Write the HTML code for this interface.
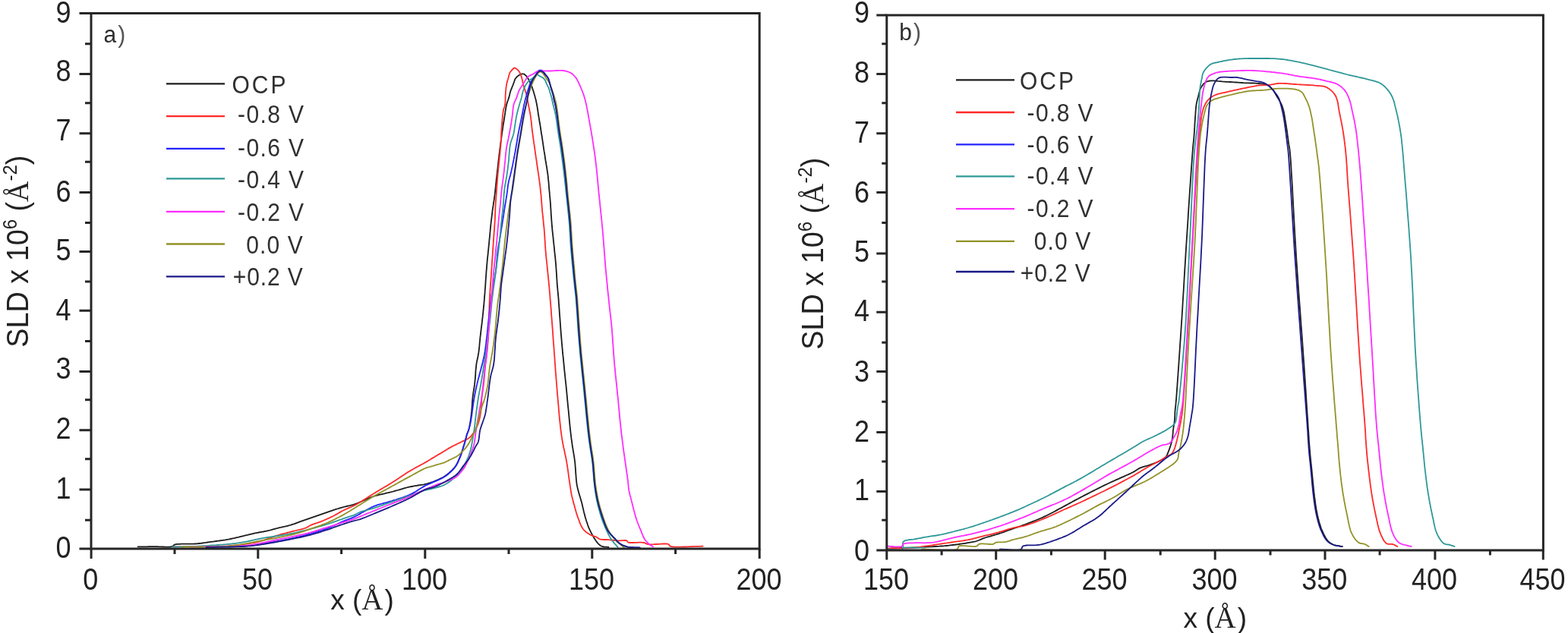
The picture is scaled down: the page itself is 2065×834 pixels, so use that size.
<!DOCTYPE html><html><head><meta charset="utf-8"><style>html,body{margin:0;padding:0;background:#fff;overflow:hidden}svg{display:block;filter:blur(0.7px)}</style></head><body><svg width="2065" height="834" viewBox="0 0 2065 834" font-family="'Liberation Sans', Arial, sans-serif" font-size="36" fill="#222">
<rect width="100%" height="100%" fill="#fff"/>
<path d="M181.6 720.3 L183.9 720.3 L186.3 720.3 L188.6 720.3 L191 720.3 L193.3 720.3 L195.7 720.2 L198 720.2 L200.4 720.2 L202.7 720.2 L205 720.2 L207.3 720.2 L209.8 720.3 L212.3 720.4 L214.9 720.5 L217.3 720.6 L219.7 720.6 L222 720.6 L223.9 720.5 L225.6 720.3 L227 720 L228.1 719.3 L228.8 718.4 L230 717.6 L231.6 717.2 L233.7 716.9 L236.2 716.8 L239 716.7 L242 716.7 L245.1 716.7 L248.3 716.7 L251.5 716.7 L254.4 716.7 L257.2 716.5 L259.6 716.3 L262 716 L264.3 715.8 L266.7 715.5 L269 715.2 L271.3 714.9 L273.6 714.5 L275.9 714.2 L278.2 713.9 L280.4 713.6 L282.5 713.3 L284.6 713 L286.7 712.7 L288.8 712.5 L290.9 712.2 L293 711.9 L295 711.6 L297 711.3 L298.9 710.9 L300.8 710.6 L302.3 710.3 L303.8 710 L305.3 709.7 L306.7 709.4 L308.1 709.1 L309.4 708.8 L310.8 708.4 L312.3 708.1 L313.8 707.8 L315.3 707.4 L317.2 706.9 L319.3 706.5 L321.4 705.9 L323.5 705.4 L325.7 704.9 L327.8 704.3 L330 703.8 L332.1 703.3 L334.1 702.8 L336.1 702.4 L337.7 702.1 L339.3 701.8 L340.8 701.5 L342.3 701.2 L343.8 701 L345.3 700.7 L346.8 700.5 L348.3 700.2 L349.8 699.9 L351.3 699.6 L352.8 699.2 L354.4 698.9 L355.9 698.5 L357.4 698.1 L359 697.6 L360.5 697.2 L362 696.8 L363.5 696.4 L365.1 696 L366.6 695.6 L368.1 695.2 L369.7 694.9 L371.2 694.5 L372.8 694.2 L374.3 693.9 L375.9 693.5 L377.4 693.2 L378.9 692.8 L380.4 692.4 L381.9 692 L383.3 691.6 L384.6 691.2 L385.9 690.7 L387.2 690.3 L388.5 689.8 L389.8 689.3 L391.1 688.8 L392.4 688.4 L393.7 687.9 L395 687.4 L396.4 686.9 L397.8 686.4 L399.3 685.9 L400.7 685.4 L402.2 684.9 L403.6 684.3 L405.1 683.8 L406.5 683.3 L408 682.8 L409.4 682.3 L410.8 681.8 L412.3 681.3 L413.7 680.8 L415.2 680.3 L416.6 679.8 L418 679.3 L419.5 678.8 L420.9 678.3 L422.4 677.8 L423.8 677.3 L425.2 676.8 L426.7 676.3 L428.1 675.8 L429.6 675.3 L431 674.8 L432.4 674.3 L433.9 673.8 L435.3 673.3 L436.8 672.8 L438.2 672.3 L439.6 671.8 L441.1 671.4 L442.5 670.9 L444 670.5 L445.4 670.1 L446.8 669.6 L448.3 669.2 L449.7 668.8 L451.2 668.4 L452.6 668 L454 667.6 L455.4 667.3 L456.8 667 L458.1 666.7 L459.5 666.4 L460.9 666.1 L462.3 665.7 L463.8 665.3 L465.3 664.9 L466.9 664.4 L469.1 663.6 L471.5 662.7 L473.9 661.6 L476.5 660.5 L479 659.3 L481.6 658.2 L484.3 657 L486.9 655.9 L489.5 654.9 L492 654 L494.4 653.2 L496.8 652.6 L499.2 651.9 L501.6 651.4 L504 650.8 L506.4 650.3 L508.8 649.7 L511.2 649.2 L513.6 648.6 L516 648 L518.4 647.4 L520.8 646.7 L523.3 646 L525.7 645.3 L528.1 644.6 L530.5 643.9 L532.9 643.2 L535.3 642.5 L537.7 641.9 L540 641.4 L542.1 641 L544.2 640.6 L546.4 640.2 L548.5 639.8 L550.6 639.5 L552.7 639.2 L554.7 638.9 L556.6 638.6 L558.4 638.3 L560 637.9 L561.6 637.5 L563.1 637.1 L564.4 636.7 L565.7 636.3 L567.1 635.9 L568.4 635.4 L569.6 635 L570.8 634.5 L572 634 L573.2 633.6 L574.4 633 L575.6 632.5 L576.8 632 L578 631.5 L579.2 630.9 L580.4 630.4 L581.6 629.8 L582.8 629.2 L584 628.5 L585.2 627.8 L586.3 627.1 L587.4 626.3 L588.5 625.5 L589.5 624.7 L590.6 623.8 L591.6 622.9 L592.6 622 L593.6 621.1 L594.7 620.1 L595.7 619.1 L596.7 618 L597.7 617 L598.6 615.9 L599.5 614.7 L600.3 613.6 L601 612.5 L601.7 611.3 L602.3 610.1 L602.9 608.9 L603.4 607.6 L604 606.4 L604.5 605.2 L605 604 L605.5 602.8 L606 601.6 L606.5 600.4 L606.9 599.2 L607.4 598 L607.8 596.8 L608.3 595.4 L608.7 594 L609.1 592.6 L609.6 591.2 L610 589.8 L610.4 588.4 L610.8 587 L611.3 585.6 L611.7 584.2 L612.1 582.8 L612.5 581.4 L612.9 580 L613.3 578.6 L613.6 577.3 L613.9 575.9 L614.3 574.5 L614.6 573.2 L615 572 L615.4 570.8 L615.9 569.8 L616.3 568.7 L616.8 567.6 L617.2 566.4 L617.5 565.2 L617.9 563.9 L618.2 562.4 L618.5 561 L618.7 559.5 L619 558 L619.3 556.5 L619.5 555 L619.7 553.7 L619.9 552.4 L620.1 551.1 L620.2 549.9 L620.4 548.6 L620.5 547.2 L620.7 545.9 L620.8 544.5 L621 543 L621.2 541.2 L621.3 539.3 L621.5 537.4 L621.6 535.4 L621.8 533.4 L621.9 531.3 L622 529.2 L622.2 527.2 L622.4 525.2 L622.6 523.2 L622.8 521.4 L623.1 519.6 L623.3 517.8 L623.6 516 L623.9 514.2 L624.2 512.5 L624.4 510.7 L624.7 508.8 L625 506.9 L625.2 505 L625.4 502.6 L625.7 500.1 L625.9 497.6 L626.1 495 L626.3 492.3 L626.4 489.7 L626.6 487.1 L626.9 484.6 L627.1 482.2 L627.4 480 L627.6 478.4 L627.9 476.9 L628.2 475.4 L628.5 474 L628.8 472.7 L629.1 471.3 L629.4 469.9 L629.7 468.5 L629.9 467 L630.2 465.4 L630.5 463.3 L630.8 461.1 L631 458.8 L631.3 456.4 L631.5 454 L631.7 451.6 L632 449.1 L632.2 446.7 L632.4 444.3 L632.7 442 L633 439.8 L633.2 437.6 L633.5 435.5 L633.7 433.3 L634 431.2 L634.3 429 L634.5 426.8 L634.8 424.7 L635 422.4 L635.3 420.2 L635.6 417.8 L635.8 415.4 L636.1 413 L636.3 410.6 L636.6 408.2 L636.8 405.7 L637.1 403.2 L637.3 400.6 L637.6 397.8 L637.8 395 L638.1 390.9 L638.5 386.5 L638.8 381.8 L639.2 377 L639.5 372.1 L639.8 367.2 L640.2 362.3 L640.5 357.6 L640.9 353.2 L641.2 349 L641.5 346 L641.7 343.1 L642 340.4 L642.3 337.7 L642.6 335.1 L642.8 332.5 L643.1 329.9 L643.4 327.3 L643.6 324.7 L643.9 322 L644.2 319.3 L644.4 316.5 L644.7 313.7 L645 310.9 L645.2 308.1 L645.5 305.4 L645.7 302.6 L646 300 L646.2 297.4 L646.5 295 L646.7 293.1 L646.9 291.4 L647.1 289.6 L647.3 287.9 L647.5 286.3 L647.7 284.7 L647.9 283 L648.1 281.4 L648.3 279.7 L648.5 278 L648.7 276.2 L649 274.4 L649.3 272.6 L649.6 270.7 L649.8 268.9 L650.1 267 L650.4 265.2 L650.7 263.3 L650.9 261.4 L651.2 259.5 L651.5 257.4 L651.7 255.3 L652 253.1 L652.2 251 L652.4 248.8 L652.7 246.6 L652.9 244.4 L653.1 242.2 L653.4 240.1 L653.6 237.9 L653.8 235.7 L654.1 233.6 L654.3 231.4 L654.6 229.3 L654.8 227.1 L655 224.9 L655.3 222.8 L655.5 220.6 L655.8 218.5 L656 216.3 L656.2 214.2 L656.5 212 L656.7 209.9 L657 207.8 L657.2 205.6 L657.5 203.5 L657.7 201.4 L658 199.3 L658.2 197.1 L658.5 195 L658.8 192.9 L659.1 190.7 L659.3 188.6 L659.6 186.4 L659.9 184.3 L660.2 182.1 L660.5 180 L660.8 177.8 L661.1 175.7 L661.4 173.6 L661.7 171.5 L662 169.5 L662.3 167.4 L662.6 165.4 L662.9 163.3 L663.3 161.3 L663.6 159.3 L663.9 157.3 L664.2 155.3 L664.5 153.4 L664.8 151.7 L665 150 L665.3 148.4 L665.5 146.7 L665.8 145.1 L666 143.5 L666.3 141.9 L666.6 140.4 L666.9 139 L667.2 137.6 L667.6 136.2 L668 134.9 L668.4 133.7 L668.9 132.5 L669.3 131.3 L669.7 130.1 L670.1 128.9 L670.5 127.5 L670.9 126 L671.2 124.5 L671.5 123.1 L671.9 121.7 L672.3 120.3 L672.7 119 L673.2 117.8 L673.7 116.6 L674.2 115.4 L674.6 114.2 L675.1 113.1 L675.6 111.9 L676 110.7 L676.5 109.5 L676.9 108.4 L677.3 107.3 L677.7 106 L678.1 104.9 L678.7 103.7 L679.4 102.8 L680.2 101.9 L681.1 100.9 L682.1 100.1 L683.1 99.4 L684.2 98.8 L685.3 98.1 L686.5 97.6 L687.7 97.3 L688.8 97.3 L690 97.6 L691.1 98.3 L692.1 99.1 L693.1 100.1 L693.9 101.1 L694.7 102.2 L695.4 103.4 L696 104.7 L696.7 105.9 L697.3 107 L697.9 108.1 L698.5 109.3 L699.1 110.5 L699.6 111.7 L700 112.8 L700.5 114 L700.9 115.3 L701.3 116.6 L701.7 117.8 L702.1 119.1 L702.5 120.3 L702.9 121.5 L703.2 122.7 L703.6 123.9 L703.9 125 L704.3 126.3 L704.6 127.5 L704.9 128.7 L705.3 130 L705.6 131.3 L705.9 132.6 L706.2 134 L706.5 135.4 L706.8 136.8 L707 138 L707.2 139.3 L707.5 140.6 L707.7 141.9 L707.9 143.3 L708.1 144.6 L708.3 146 L708.5 147.4 L708.7 148.8 L708.9 150.3 L709.2 152 L709.5 153.8 L709.8 155.7 L710.1 157.5 L710.4 159.4 L710.7 161.3 L711.1 163.2 L711.4 165.2 L711.7 167.1 L712 169 L712.3 171 L712.6 173 L712.9 175 L713.2 177 L713.6 179 L713.9 181.1 L714.2 183.1 L714.5 185.1 L714.8 187.2 L715.1 189.2 L715.4 191.2 L715.7 193.3 L716 195.3 L716.3 197.3 L716.6 199.4 L717 201.4 L717.3 203.4 L717.6 205.4 L717.9 207.5 L718.2 209.5 L718.5 211.5 L718.9 213.5 L719.2 215.5 L719.5 217.5 L719.9 219.5 L720.2 221.5 L720.5 223.6 L720.8 225.6 L721.1 227.6 L721.4 229.7 L721.7 231.9 L721.9 234.1 L722.1 236.4 L722.4 238.7 L722.6 241 L722.8 243.3 L722.9 245.5 L723.1 247.8 L723.3 249.9 L723.5 252 L723.7 253.7 L723.8 255.3 L723.9 256.9 L724.1 258.4 L724.2 259.9 L724.4 261.4 L724.5 263 L724.6 264.6 L724.8 266.2 L724.9 268 L725.1 270.4 L725.2 273 L725.4 275.6 L725.6 278.3 L725.7 281.1 L725.9 283.9 L726.1 286.7 L726.3 289.5 L726.5 292.3 L726.7 295 L726.9 297.7 L727.2 300.4 L727.4 303.1 L727.7 305.8 L728 308.5 L728.3 311.2 L728.6 313.9 L728.8 316.6 L729.1 319.3 L729.4 322 L729.7 324.7 L730 327.4 L730.2 330.1 L730.5 332.8 L730.8 335.5 L731.1 338.2 L731.4 340.9 L731.6 343.6 L731.9 346.3 L732.1 349 L732.3 351.7 L732.5 354.5 L732.7 357.4 L732.9 360.2 L733.1 363 L733.2 365.8 L733.4 368.5 L733.6 371.2 L733.7 373.7 L733.9 376 L734 377.5 L734.2 378.9 L734.3 380.2 L734.4 381.4 L734.5 382.7 L734.6 383.9 L734.8 385.2 L734.9 386.6 L735 388.2 L735.2 390 L735.6 394.4 L735.9 399.6 L736.4 405.4 L736.8 411.7 L737.3 418.3 L737.8 425.2 L738.3 432.1 L738.8 439.1 L739.4 445.8 L739.9 452.2 L740.5 458.4 L741 464.7 L741.7 470.9 L742.3 477.1 L742.9 483.4 L743.5 489.6 L744.2 495.8 L744.8 502 L745.5 508.3 L746.1 514.5 L746.7 520.8 L747.3 527.3 L747.9 533.8 L748.6 540.4 L749.2 546.9 L749.8 553.4 L750.4 559.6 L751 565.6 L751.7 571.4 L752.3 576.7 L752.8 580.2 L753.3 583.6 L753.7 586.8 L754.2 589.9 L754.7 592.9 L755.2 595.8 L755.7 598.8 L756.2 601.7 L756.6 604.7 L757 607.8 L757.4 611 L757.6 614.3 L757.9 617.6 L758.1 621 L758.3 624.3 L758.6 627.6 L758.8 630.8 L759.1 634 L759.5 637.1 L760 640 L760.5 642.4 L761 644.6 L761.6 646.8 L762.2 649 L762.8 651.1 L763.4 653.2 L764.1 655.3 L764.7 657.4 L765.3 659.5 L765.9 661.6 L766.5 663.8 L767 666 L767.5 668.2 L768 670.4 L768.5 672.6 L769 674.8 L769.6 676.9 L770.1 679.1 L770.7 681.2 L771.3 683.2 L771.9 685 L772.4 686.8 L773 688.5 L773.6 690.3 L774.1 692 L774.8 693.7 L775.4 695.4 L776.2 697 L776.9 698.7 L777.8 700.4 L778.8 702.3 L779.9 704.4 L781.1 706.5 L782.4 708.7 L783.7 710.8 L785 712.8 L786.4 714.6 L787.8 716.3 L789.3 717.7 L790.7 718.8 L792 719.5 L793.3 720 L794.6 720.3 L796 720.5 L797.4 720.6 L798.8 720.7 L800.1 720.8 L801.5 721" fill="none" stroke="#1c1c1c" stroke-width="1.8" stroke-linejoin="round" stroke-linecap="round"/>
<path d="M230 720.5 L237.1 720.4 L244.3 720.4 L251.6 720.4 L258.9 720.3 L266.2 720.3 L273.4 720.3 L280.4 720.2 L287.3 720 L293.8 719.7 L300 719.3 L304.5 718.9 L308.9 718.5 L313.1 718.1 L317.2 717.7 L321.3 717.1 L325.2 716.6 L329 716 L332.7 715.3 L336.4 714.6 L340 713.8 L342.9 713.1 L345.8 712.2 L348.5 711.4 L351.2 710.4 L353.8 709.5 L356.4 708.5 L359 707.6 L361.5 706.7 L364.1 705.8 L366.6 705 L368.8 704.4 L371.1 703.7 L373.3 703.1 L375.5 702.6 L377.7 702 L379.8 701.5 L382 700.9 L384 700.4 L386 699.9 L388 699.4 L389.6 699 L391.2 698.6 L392.7 698.3 L394.3 697.9 L395.8 697.6 L397.2 697.2 L398.7 696.8 L400 696.4 L401.3 696 L402.5 695.6 L403.8 695 L404.9 694.4 L406 693.8 L407 693.2 L408.1 692.5 L409.4 691.9 L410.6 691.4 L411.9 690.9 L413.3 690.4 L414.8 689.9 L416.3 689.4 L417.8 688.9 L419.3 688.3 L420.8 687.8 L422.3 687.3 L423.8 686.7 L425.3 686.1 L426.7 685.5 L428.1 684.9 L429.6 684.2 L431 683.6 L432.5 682.9 L433.9 682.3 L435.3 681.6 L436.8 680.9 L438.2 680.2 L439.7 679.5 L441.1 678.7 L442.5 677.9 L444 677.1 L445.4 676.3 L446.8 675.4 L448.3 674.6 L449.7 673.8 L451.2 673 L452.6 672.3 L454 671.6 L455.4 671 L456.8 670.4 L458.1 669.8 L459.5 669.2 L460.9 668.6 L462.4 668 L463.8 667.3 L465.3 666.6 L466.9 665.8 L469.2 664.6 L471.5 663.2 L474 661.7 L476.5 660.2 L479.1 658.5 L481.7 656.9 L484.3 655.2 L486.9 653.6 L489.5 651.9 L492 650.4 L494.4 648.9 L496.8 647.5 L499.2 646.1 L501.6 644.6 L504 643.2 L506.4 641.8 L508.8 640.4 L511.2 638.9 L513.6 637.5 L516 636 L518.4 634.5 L520.8 632.9 L523.3 631.3 L525.7 629.7 L528.1 628 L530.5 626.4 L532.9 624.9 L535.3 623.3 L537.7 621.8 L540 620.4 L542.1 619.2 L544.2 618 L546.4 616.8 L548.5 615.6 L550.6 614.5 L552.7 613.4 L554.7 612.3 L556.6 611.3 L558.4 610.3 L560 609.4 L561.4 608.6 L562.7 607.8 L563.9 607.1 L565 606.4 L566.1 605.7 L567.2 605 L568.4 604.3 L569.6 603.6 L570.8 602.9 L572 602.2 L573.2 601.4 L574.4 600.7 L575.6 600 L576.8 599.3 L578 598.6 L579.2 597.9 L580.4 597.2 L581.6 596.4 L582.8 595.7 L584 595 L585.2 594.3 L586.4 593.6 L587.6 592.8 L588.8 592.1 L590 591.3 L591.2 590.6 L592.4 589.9 L593.6 589.2 L594.8 588.6 L596 587.9 L597.2 587.3 L598.5 586.7 L599.7 586.1 L600.8 585.6 L602 585 L603.4 584.3 L604.8 583.6 L606.1 583 L607.4 582.3 L608.7 581.7 L609.9 581.2 L611.1 580.7 L612.3 580.2 L613.5 579.6 L614.6 579 L615.8 578.3 L617 577.5 L618.1 576.6 L619.2 575.7 L620.3 574.6 L621.2 573.6 L622.1 572.4 L622.9 571.2 L623.8 570 L624.6 568.7 L625.4 567.3 L626.1 566 L626.7 564.8 L627.3 563.6 L627.9 562.4 L628.5 561.2 L629 559.9 L629.5 558.6 L630 557.3 L630.4 555.9 L630.8 554.6 L631.1 553.3 L631.5 551.9 L631.8 550.5 L632.1 549 L632.4 547.6 L632.6 546.1 L632.9 544.6 L633.1 543.1 L633.3 541.6 L633.5 539.9 L633.7 538.1 L633.8 536.3 L633.9 534.4 L634 532.5 L634.1 530.7 L634.2 528.8 L634.3 526.9 L634.4 525 L634.6 523.2 L634.8 521.4 L635 519.6 L635.3 517.8 L635.5 516 L635.8 514.3 L636 512.5 L636.3 510.7 L636.5 508.8 L636.8 506.9 L637 505 L637.3 502.6 L637.5 500.1 L637.7 497.5 L638 494.9 L638.2 492.2 L638.4 489.6 L638.6 487 L638.8 484.5 L639.1 482.2 L639.3 480 L639.5 478.4 L639.7 476.9 L639.9 475.5 L640.1 474.1 L640.3 472.8 L640.4 471.4 L640.6 470 L640.8 468.6 L641 467 L641.2 465 L641.4 463 L641.6 460.9 L641.9 458.7 L642.1 456.5 L642.3 454.2 L642.5 451.9 L642.7 449.6 L642.8 447.3 L643 445 L643.1 442.6 L643.3 440.1 L643.4 437.6 L643.5 435.1 L643.6 432.6 L643.7 430.1 L643.8 427.6 L643.8 425.1 L643.9 422.5 L644 420 L644.1 417.4 L644.2 414.8 L644.2 412.3 L644.3 409.7 L644.4 407.1 L644.4 404.5 L644.5 401.9 L644.6 399.2 L644.7 396.6 L644.8 394 L644.9 391.3 L645.1 388.6 L645.3 385.9 L645.4 383.2 L645.6 380.5 L645.8 377.8 L646 375.1 L646.2 372.4 L646.4 369.7 L646.6 367 L646.8 364.3 L647 361.6 L647.1 358.9 L647.3 356.2 L647.5 353.5 L647.7 350.8 L647.9 348.1 L648 345.4 L648.2 342.7 L648.4 340 L648.6 337.3 L648.8 334.6 L648.9 331.8 L649.1 329.1 L649.3 326.4 L649.5 323.6 L649.7 320.9 L649.8 318.3 L650 315.6 L650.2 313 L650.4 310.6 L650.5 308.2 L650.7 305.8 L650.9 303.5 L651.1 301.1 L651.2 298.8 L651.4 296.5 L651.5 294.3 L651.7 292.1 L651.8 290 L651.9 288.3 L652 286.6 L652 285 L652.1 283.4 L652.1 281.8 L652.2 280.2 L652.2 278.6 L652.3 277 L652.3 275.4 L652.4 273.8 L652.5 272.1 L652.6 270.3 L652.7 268.6 L652.8 266.8 L652.9 265.1 L653.1 263.3 L653.2 261.5 L653.3 259.7 L653.5 257.8 L653.6 255.9 L653.8 253.6 L653.9 251.3 L654.1 249 L654.3 246.5 L654.4 244.1 L654.6 241.7 L654.8 239.2 L655 236.8 L655.2 234.3 L655.4 231.9 L655.6 229.5 L655.8 227.1 L656.1 224.6 L656.3 222.2 L656.6 219.7 L656.8 217.3 L657.1 214.9 L657.3 212.6 L657.6 210.3 L657.8 208 L658 206.1 L658.2 204.3 L658.4 202.5 L658.5 200.7 L658.7 198.9 L658.9 197.2 L659 195.4 L659.2 193.6 L659.4 191.8 L659.5 190 L659.6 188 L659.8 185.9 L659.9 183.9 L659.9 181.8 L660 179.7 L660.1 177.6 L660.2 175.4 L660.3 173.3 L660.5 171.2 L660.6 169 L660.8 166.7 L661 164.2 L661.1 161.7 L661.4 159.1 L661.6 156.6 L661.8 154.1 L662 151.7 L662.3 149.5 L662.6 147.4 L662.9 145.6 L663.2 144 L663.6 142.7 L664.1 141.5 L664.5 140.3 L664.8 139 L665.1 137.6 L665.3 136.3 L665.4 135 L665.5 133.6 L665.5 132.1 L665.6 130.6 L665.6 129.1 L665.6 127.6 L665.6 126.1 L665.7 124.6 L665.8 123.2 L665.9 121.8 L666 120.3 L666.2 118.9 L666.3 117.5 L666.4 116.1 L666.6 114.8 L666.8 113.4 L667 112.1 L667.2 110.9 L667.5 109.5 L667.9 108.1 L668.2 106.8 L668.6 105.5 L669 104.3 L669.4 103 L669.7 101.7 L670 100.5 L670.3 99.2 L670.7 98 L671 96.8 L671.5 95.8 L672.1 94.8 L672.9 93.8 L673.6 93 L674.4 92.2 L675.3 91 L676.3 90 L677.3 89.4 L678.3 89.6 L679.5 90.2 L680.6 91.1 L681.6 91.9 L682.4 92.7 L683.1 93.5 L683.8 94.4 L684.4 95.4 L684.9 96.4 L685.4 97.6 L685.9 98.7 L686.3 99.9 L686.7 101.1 L687.1 102.4 L687.4 103.7 L687.7 104.9 L688 106.2 L688.2 107.5 L688.5 108.9 L688.8 110.2 L689.1 111.4 L689.5 112.6 L689.8 113.7 L690.2 114.9 L690.6 116.2 L691 117.4 L691.4 118.6 L691.8 119.8 L692.2 121 L692.7 122.3 L693.1 123.5 L693.5 124.8 L693.8 126 L694.1 127.4 L694.4 128.8 L694.6 130.1 L694.8 131.6 L695 133.1 L695.3 134.7 L695.6 136.3 L695.9 138 L696.3 139.8 L696.6 141.6 L697 143.6 L697.4 145.5 L697.8 147.5 L698.2 149.5 L698.5 151.5 L698.8 153.4 L699.1 155.4 L699.3 157.4 L699.6 159.4 L699.8 161.4 L700 163.4 L700.2 165.4 L700.4 167.5 L700.6 169.5 L700.8 171.5 L701.1 173.6 L701.4 175.8 L701.7 177.9 L702 180.1 L702.3 182.3 L702.6 184.5 L702.9 186.7 L703.2 188.9 L703.6 191.1 L703.9 193.3 L704.2 195.5 L704.5 197.7 L704.8 199.9 L705.1 202 L705.4 204.2 L705.7 206.4 L706.1 208.6 L706.4 210.8 L706.7 212.9 L707 215.1 L707.3 217.3 L707.6 219.5 L708 221.7 L708.3 223.9 L708.6 226.2 L709 228.4 L709.3 230.6 L709.6 232.8 L709.9 235 L710.2 237.1 L710.5 239.1 L710.7 240.8 L710.9 242.4 L711.1 244 L711.3 245.5 L711.5 247 L711.6 248.6 L711.8 250.1 L712 251.7 L712.1 253.3 L712.3 255 L712.5 257 L712.7 259.1 L712.8 261.3 L713 263.4 L713.2 265.6 L713.4 267.9 L713.5 270.1 L713.7 272.4 L713.9 274.7 L714.1 277 L714.3 279.6 L714.6 282.2 L714.9 284.9 L715.2 287.6 L715.5 290.3 L715.7 293.1 L716 295.8 L716.3 298.6 L716.6 301.3 L716.8 304 L717 306.7 L717.2 309.4 L717.4 312.1 L717.5 314.8 L717.7 317.5 L717.9 320.2 L718 322.9 L718.2 325.6 L718.4 328.3 L718.6 331 L718.8 333.7 L719.1 336.4 L719.3 339 L719.6 341.7 L719.9 344.4 L720.2 347 L720.5 349.7 L720.7 352.5 L721 355.2 L721.3 358 L721.6 361 L721.9 364.1 L722.2 367.1 L722.5 370.1 L722.8 373.2 L723.1 376.3 L723.4 379.5 L723.7 382.9 L724 386.4 L724.3 390 L724.7 395.4 L725.2 401.1 L725.7 407.2 L726.1 413.4 L726.6 419.8 L727.1 426.3 L727.6 432.9 L728.1 439.4 L728.5 445.9 L729 452.2 L729.5 458.4 L729.9 464.7 L730.4 470.9 L730.8 477.1 L731.3 483.4 L731.7 489.6 L732.2 495.8 L732.7 502 L733.2 508.3 L733.7 514.5 L734.2 520.8 L734.8 527.3 L735.4 533.9 L735.9 540.4 L736.5 547 L737.1 553.4 L737.8 559.6 L738.4 565.6 L739.2 571.4 L739.9 576.7 L740.5 580.2 L741.1 583.5 L741.7 586.7 L742.3 589.7 L743 592.6 L743.6 595.5 L744.2 598.5 L744.9 601.5 L745.5 604.5 L746.1 607.8 L746.8 611.8 L747.4 616.1 L748.1 620.6 L748.7 625.2 L749.3 629.8 L750 634.3 L750.6 638.6 L751.2 642.7 L751.7 646.3 L752.3 649.5 L752.6 651.2 L752.9 652.6 L753.2 654 L753.5 655.2 L753.8 656.4 L754.1 657.6 L754.4 658.8 L754.7 660.1 L755.1 661.6 L755.6 663.5 L756.2 665.6 L756.8 667.8 L757.4 670 L758.1 672.3 L758.7 674.6 L759.4 676.9 L760.2 679.1 L760.9 681.2 L761.6 683.2 L762.2 684.8 L762.8 686.3 L763.3 687.8 L763.9 689.3 L764.5 690.8 L765.1 692.2 L765.8 693.5 L766.5 694.8 L767.3 696.1 L768.1 697.2 L769 698.3 L770 699.3 L771.1 700.3 L772.2 701.2 L773.3 702 L774.5 702.8 L775.6 703.5 L776.7 704.2 L777.8 704.8 L779.1 705.4 L780.4 705.9 L781.7 706.3 L783 706.6 L784.2 707 L785.3 707.5 L786.5 708.2 L787.6 709 L788.7 709.8 L790 710.4 L791.1 710.7 L792.3 710.8 L793.6 710.9 L794.9 711 L796.3 711 L797.8 711 L799.2 711 L800.6 711.1 L802 711.2 L803.5 711.4 L804.9 711.5 L806.4 711.7 L807.9 711.9 L809.4 712 L810.9 712.2 L812.4 712.3 L813.8 712.4 L815.4 712.4 L817.1 712.3 L818.8 712.2 L820.5 712.1 L822.1 712 L823.5 712 L824.7 712.1 L825.6 712.4 L826.3 713.4 L827 714.4 L828.1 714.8 L829.8 715 L831.9 715 L834.3 715 L836.9 714.9 L839.5 714.8 L842 714.7 L844.4 714.7 L846.5 714.8 L848.1 715 L849.6 715.5 L850.7 716.1 L851.8 716.6 L853.3 717.1 L855.3 717.3 L857.9 717.3 L860.9 717.2 L864.1 717 L867.5 716.8 L870.9 716.6 L874 716.5 L876.8 716.5 L879 716.7 L880.5 717.1 L881.3 717.9 L881.7 718.8 L882.5 719.6 L884.5 720.2 L887.5 720.5 L891.3 720.7 L895.7 720.7 L900.5 720.5 L905.7 720.3 L910.9 720.1 L916.1 719.9 L921 719.8 L925.6 719.7" fill="none" stroke="#ff2a2a" stroke-width="1.8" stroke-linejoin="round" stroke-linecap="round"/>
<path d="M271 721 L276.2 720.9 L281.7 720.8 L287.1 720.7 L292.7 720.6 L298.1 720.4 L303.5 720.3 L308.7 720.2 L313.6 720 L318.2 719.8 L322.5 719.5 L325 719.3 L327.3 719.1 L329.5 718.9 L331.5 718.6 L333.5 718.4 L335.5 718.1 L337.5 717.8 L339.6 717.5 L341.9 717.2 L344.3 716.8 L348.1 716.2 L352.3 715.5 L356.8 714.7 L361.5 713.9 L366.2 713 L370.9 712.1 L375.6 711.2 L380 710.3 L384.2 709.4 L388 708.6 L390.5 708 L392.8 707.5 L395 706.9 L397.1 706.4 L399.2 705.9 L401.2 705.3 L403.2 704.8 L405.2 704.2 L407.3 703.6 L409.4 703 L411.6 702.4 L413.8 701.7 L416 701.1 L418.3 700.4 L420.5 699.7 L422.7 699 L424.9 698.3 L427.1 697.6 L429.3 696.8 L431.5 696 L433.7 695.1 L435.8 694.2 L438 693.2 L440.2 692.2 L442.4 691.2 L444.5 690.2 L446.6 689.2 L448.6 688.3 L450.7 687.3 L452.6 686.5 L454.1 685.9 L455.6 685.3 L457 684.8 L458.3 684.3 L459.7 683.8 L461.1 683.3 L462.4 682.8 L463.9 682.2 L465.3 681.6 L466.9 680.9 L469.1 679.8 L471.5 678.5 L473.9 677.1 L476.4 675.6 L479 674.1 L481.6 672.6 L484.2 671.1 L486.8 669.7 L489.4 668.4 L492 667.2 L494.4 666.3 L496.8 665.4 L499.2 664.7 L501.6 664 L504 663.3 L506.4 662.7 L508.8 662.1 L511.2 661.4 L513.6 660.7 L516 660 L518.4 659.2 L520.9 658.5 L523.3 657.7 L525.8 656.9 L528.2 656.1 L530.6 655.3 L533 654.4 L535.4 653.5 L537.7 652.6 L540 651.6 L542.2 650.6 L544.3 649.4 L546.5 648.2 L548.6 646.9 L550.7 645.6 L552.7 644.3 L554.7 643.1 L556.6 641.9 L558.3 640.9 L560 640 L561.4 639.3 L562.6 638.7 L563.8 638.2 L565 637.7 L566.1 637.2 L567.2 636.7 L568.4 636.2 L569.6 635.7 L570.8 635.2 L572 634.7 L573.2 634.2 L574.4 633.7 L575.6 633.1 L576.8 632.6 L578 632 L579.2 631.5 L580.4 630.9 L581.6 630.3 L582.8 629.7 L584 629 L585.2 628.3 L586.3 627.6 L587.4 626.8 L588.5 626 L589.5 625.2 L590.6 624.3 L591.6 623.4 L592.6 622.5 L593.6 621.6 L594.7 620.6 L595.7 619.5 L596.7 618.5 L597.7 617.4 L598.6 616.3 L599.5 615.2 L600.3 614 L601 612.9 L601.7 611.7 L602.3 610.5 L602.9 609.3 L603.4 608.1 L604 606.9 L604.5 605.7 L605 604.5 L605.5 603.3 L606 602.1 L606.5 600.9 L606.9 599.6 L607.4 598.4 L607.8 597.2 L608.3 595.8 L608.7 594.4 L609.1 593 L609.6 591.6 L610 590.2 L610.4 588.8 L610.8 587.4 L611.3 586 L611.7 584.6 L612.1 583.2 L612.5 581.8 L612.9 580.4 L613.3 579.1 L613.6 577.7 L613.9 576.4 L614.3 575 L614.6 573.7 L615 572.5 L615.4 571.3 L615.9 570.1 L616.3 568.9 L616.8 567.7 L617.2 566.4 L617.6 565.2 L617.9 563.8 L618.3 562.5 L618.7 561 L619 559.6 L619.4 558.1 L619.7 556.5 L620 555 L620.3 553.6 L620.5 552.2 L620.7 550.7 L620.9 549.2 L621.2 547.7 L621.4 546.2 L621.6 544.6 L621.8 543.1 L622 541.5 L622.2 540 L622.4 538.4 L622.7 536.7 L622.9 535 L623.1 533.4 L623.4 531.7 L623.6 530 L623.9 528.3 L624.1 526.6 L624.4 524.9 L624.7 523.2 L625 521.4 L625.4 519.6 L625.7 517.9 L626.1 516.1 L626.4 514.3 L626.8 512.5 L627.2 510.7 L627.6 508.8 L628.1 506.9 L628.5 505 L629.1 502.6 L629.7 500.1 L630.4 497.5 L631.1 494.9 L631.8 492.2 L632.5 489.6 L633.2 487 L633.8 484.5 L634.4 482.2 L635 480 L635.4 478.4 L635.8 476.9 L636.1 475.5 L636.5 474.1 L636.8 472.8 L637.1 471.4 L637.4 470 L637.7 468.6 L638 467 L638.3 465 L638.7 463 L639 460.9 L639.3 458.7 L639.6 456.5 L639.9 454.2 L640.2 451.9 L640.4 449.6 L640.7 447.3 L641 445 L641.3 442.6 L641.6 440.1 L641.8 437.7 L642.1 435.2 L642.3 432.7 L642.6 430.2 L642.8 427.7 L643.1 425.2 L643.3 422.7 L643.6 420.2 L643.9 417.7 L644.2 415.1 L644.4 412.5 L644.7 410 L645 407.4 L645.3 404.8 L645.6 402.3 L645.9 399.8 L646.2 397.4 L646.5 395 L646.8 393 L647.1 391 L647.4 389.1 L647.6 387.2 L647.9 385.3 L648.3 383.4 L648.6 381.6 L648.9 379.7 L649.2 377.9 L649.5 376 L649.8 374.2 L650.2 372.4 L650.5 370.7 L650.8 368.9 L651.2 367.2 L651.5 365.4 L651.9 363.7 L652.2 361.8 L652.5 360 L652.8 358 L653.1 355.5 L653.4 352.9 L653.7 350.1 L653.9 347.3 L654.2 344.5 L654.4 341.7 L654.7 338.9 L654.9 336.1 L655.2 333.5 L655.5 331 L655.8 329.1 L656 327.2 L656.3 325.4 L656.6 323.7 L656.9 322 L657.2 320.3 L657.5 318.6 L657.9 316.8 L658.2 314.9 L658.5 313 L658.9 310.5 L659.3 307.8 L659.8 305 L660.2 302.2 L660.7 299.3 L661.2 296.5 L661.6 293.7 L662 291 L662.4 288.4 L662.8 286 L663.1 284.4 L663.3 282.8 L663.5 281.3 L663.7 279.8 L663.9 278.4 L664.1 277 L664.3 275.6 L664.6 274.2 L664.8 272.8 L665 271.4 L665.2 270 L665.5 268.5 L665.7 267.1 L666 265.7 L666.2 264.3 L666.4 262.8 L666.7 261.4 L666.9 259.9 L667.2 258.5 L667.4 257 L667.6 255.4 L667.9 253.7 L668.1 252 L668.3 250.3 L668.5 248.6 L668.7 246.9 L668.9 245.2 L669.1 243.6 L669.4 241.9 L669.7 240.3 L670 238.8 L670.3 237.4 L670.7 236 L671 234.7 L671.4 233.3 L671.8 231.9 L672.2 230.5 L672.5 229 L672.9 227.5 L673.3 225.9 L673.8 223.6 L674.3 221.2 L674.9 218.7 L675.4 216.1 L675.9 213.4 L676.5 210.7 L677 208 L677.5 205.3 L678 202.7 L678.5 200.1 L678.9 197.7 L679.3 195.3 L679.7 192.9 L680.1 190.6 L680.5 188.2 L680.9 185.9 L681.2 183.6 L681.6 181.3 L682 179 L682.4 176.8 L682.8 174.8 L683.2 172.9 L683.5 171 L683.9 169.2 L684.3 167.3 L684.7 165.5 L685.1 163.6 L685.5 161.8 L685.9 159.9 L686.3 158 L686.7 156 L687.1 153.8 L687.5 151.7 L688 149.5 L688.4 147.3 L688.8 145.2 L689.2 143.1 L689.6 141.1 L689.9 139.3 L690.3 137.6 L690.7 135.9 L691 134.4 L691.3 133.1 L691.7 131.7 L692 130.3 L692.4 128.9 L692.7 127.7 L693.1 126.4 L693.4 125.1 L693.8 123.8 L694.2 122.6 L694.5 121.3 L694.9 120 L695.3 118.8 L695.7 117.5 L696.1 116.2 L696.5 115 L696.9 113.7 L697.3 112.5 L697.7 111.3 L698.2 110.2 L698.9 108.8 L699.6 107.5 L700.3 106.2 L701 104.9 L701.8 103.7 L702.5 102.6 L703.2 101.7 L703.9 100.7 L704.7 99.7 L705.4 98.7 L706.2 97.5 L707 96.1 L707.9 94.8 L708.7 93.6 L709.7 92.9 L711.1 92.5 L712.6 92.5 L714 92.9 L714.9 93.6 L715.8 94.5 L716.7 95.7 L717.5 96.9 L718.3 98 L719.1 99 L719.9 99.9 L720.6 100.9 L721.3 101.9 L721.9 103 L722.4 104.1 L722.8 105.3 L723.1 106.5 L723.4 107.7 L723.8 109 L724.1 110.2 L724.5 111.4 L724.8 112.6 L725.1 113.8 L725.5 115 L725.8 116.2 L726.2 117.4 L726.6 118.6 L727 119.8 L727.3 121 L727.7 122.2 L728.1 123.4 L728.4 124.6 L728.7 126 L729 127.5 L729.3 129 L729.5 130.4 L729.8 131.8 L730.2 133.2 L730.5 134.6 L730.9 136 L731.3 137.6 L731.5 138.8 L731.8 140 L732 141.3 L732.3 142.7 L732.5 144.1 L732.8 145.6 L733 147.1 L733.3 148.7 L733.5 150.3 L733.8 152.4 L734.1 154.5 L734.4 156.9 L734.7 159.2 L735 161.7 L735.3 164.1 L735.6 166.6 L735.9 169 L736.2 171.3 L736.5 173.6 L736.8 175.5 L737.1 177.5 L737.4 179.3 L737.7 181.2 L738 183 L738.3 184.8 L738.6 186.6 L738.9 188.5 L739.2 190.4 L739.5 192.3 L739.8 194.4 L740.1 196.5 L740.4 198.7 L740.7 200.9 L741 203 L741.3 205.3 L741.6 207.5 L741.9 209.7 L742.2 211.9 L742.5 214.2 L742.8 216.6 L743.1 219.1 L743.4 221.7 L743.7 224.2 L744 226.8 L744.3 229.3 L744.5 231.8 L744.8 234.3 L745.1 236.7 L745.3 239.1 L745.5 241.1 L745.7 243.1 L745.9 245 L746 246.9 L746.2 248.8 L746.3 250.7 L746.5 252.5 L746.7 254.3 L746.8 256.1 L747 257.8 L747.1 259.2 L747.3 260.6 L747.4 262 L747.6 263.3 L747.7 264.6 L747.9 265.9 L748 267.3 L748.2 268.6 L748.3 270.1 L748.5 271.6 L748.7 273.7 L748.9 275.9 L749.2 278.1 L749.4 280.4 L749.7 282.8 L749.9 285.2 L750.1 287.7 L750.4 290.1 L750.6 292.6 L750.8 295 L751 297.6 L751.2 300.3 L751.3 302.9 L751.5 305.6 L751.7 308.3 L751.8 311 L752 313.8 L752.1 316.5 L752.3 319.3 L752.5 322 L752.7 324.8 L752.9 327.7 L753.2 330.6 L753.4 333.5 L753.7 336.3 L753.9 339.2 L754.2 342.1 L754.5 345 L754.7 347.9 L755 350.8 L755.3 353.7 L755.6 356.8 L755.8 359.9 L756.1 363 L756.4 366.1 L756.7 369.1 L757 372 L757.3 374.8 L757.6 377.3 L757.8 379.6 L758 381.3 L758.2 382.7 L758.3 384 L758.5 385.2 L758.6 386.5 L758.8 388.1 L759 390 L759.4 394.1 L759.7 399.1 L760.1 404.8 L760.6 411.1 L761 417.8 L761.5 424.8 L762 431.9 L762.5 438.9 L763 445.7 L763.5 452.2 L764.1 458.4 L764.6 464.7 L765.2 470.9 L765.9 477.1 L766.5 483.4 L767.1 489.6 L767.8 495.8 L768.4 502 L769.1 508.3 L769.7 514.5 L770.3 520.8 L771 527.3 L771.6 533.8 L772.2 540.4 L772.8 546.9 L773.5 553.4 L774.1 559.6 L774.7 565.6 L775.4 571.3 L776 576.7 L776.5 580.2 L776.9 583.6 L777.4 586.8 L777.9 589.9 L778.3 592.9 L778.8 595.8 L779.3 598.8 L779.7 601.7 L780.1 604.7 L780.5 607.8 L780.9 611 L781.2 614.3 L781.5 617.6 L781.7 620.9 L782 624.3 L782.2 627.6 L782.5 630.8 L782.8 634 L783.1 637 L783.5 640 L783.8 642.3 L784.2 644.6 L784.5 646.8 L784.9 649 L785.3 651.1 L785.7 653.2 L786.1 655.3 L786.5 657.4 L787 659.5 L787.5 661.6 L788 663.8 L788.6 666 L789.2 668.2 L789.9 670.4 L790.5 672.6 L791.2 674.8 L791.9 677 L792.6 679.1 L793.3 681.2 L794 683.2 L794.6 684.9 L795.2 686.6 L795.8 688.3 L796.4 690 L797 691.7 L797.6 693.3 L798.3 694.8 L799 696.3 L799.8 697.8 L800.6 699.2 L801.4 700.4 L802.3 701.6 L803.2 702.7 L804.1 703.8 L805.1 704.8 L806.1 705.9 L807 706.9 L808 707.8 L808.9 708.8 L809.8 709.7 L810.8 710.8 L811.7 711.8 L812.6 712.8 L813.5 713.8 L814.4 714.7 L815.3 715.5 L816.4 716.3 L817.6 717 L818.8 717.7 L820 718.4 L821.3 718.9 L822.7 719.4 L824.1 719.9 L825.6 720.3 L827.1 720.6 L828.7 720.8 L830.3 721 L832.1 721.1 L833.8 721.2 L835.6 721.3 L837.5 721.4 L839.3 721.4 L841.1 721.5 L842.8 721.6" fill="none" stroke="#2222ff" stroke-width="1.8" stroke-linejoin="round" stroke-linecap="round"/>
<path d="M227.1 720.5 L229.5 720.5 L231.8 720.4 L234.2 720.4 L236.5 720.3 L238.9 720.3 L241.3 720.3 L243.7 720.2 L246.1 720.2 L248.5 720.1 L251 720 L253.8 719.9 L256.6 719.8 L259.4 719.7 L262.3 719.5 L265.2 719.4 L268.1 719.2 L271 719.1 L274 718.9 L277 718.7 L280 718.5 L283.4 718.3 L286.9 718 L290.5 717.7 L294.1 717.5 L297.7 717.2 L301.3 716.8 L304.9 716.5 L308.4 716.1 L311.9 715.7 L315.3 715.2 L318.3 714.7 L321.2 714.2 L324 713.7 L326.8 713.1 L329.6 712.5 L332.4 711.9 L335.3 711.2 L338.2 710.6 L341.2 710 L344.3 709.4 L348.3 708.7 L352.5 708 L356.8 707.4 L361.2 706.7 L365.6 706 L370.1 705.3 L374.6 704.6 L379.2 703.8 L383.6 703 L388 702.1 L392.4 701.1 L397 700 L401.6 698.9 L406.2 697.7 L410.8 696.5 L415.3 695.3 L419.6 694 L423.8 692.8 L427.8 691.6 L431.5 690.5 L433.9 689.7 L436.3 689 L438.5 688.2 L440.7 687.4 L442.8 686.7 L444.8 685.9 L446.8 685.2 L448.8 684.5 L450.7 683.8 L452.6 683.1 L454.2 682.6 L455.7 682.1 L457.2 681.6 L458.7 681.1 L460.2 680.6 L461.6 680.2 L463 679.7 L464.4 679.3 L465.7 678.8 L466.9 678.3 L468.4 677.7 L469.7 677 L470.9 676.3 L472.1 675.7 L473.5 675 L475 674.4 L476.4 673.9 L477.9 673.4 L479.5 673 L481.2 672.5 L482.9 672.1 L484.7 671.6 L486.5 671.2 L488.3 670.7 L490.2 670.2 L492 669.6 L494.2 668.9 L496.5 668.1 L498.9 667.3 L501.3 666.4 L503.8 665.6 L506.2 664.7 L508.7 663.8 L511.1 662.9 L513.6 662.1 L516 661.2 L518.4 660.4 L520.8 659.5 L523.3 658.6 L525.7 657.8 L528.1 656.9 L530.6 656.1 L533 655.2 L535.3 654.4 L537.7 653.6 L540 652.8 L542.1 652.1 L544.2 651.3 L546.3 650.6 L548.3 649.9 L550.4 649.1 L552.4 648.4 L554.4 647.8 L556.3 647.1 L558.2 646.5 L560 646 L561.5 645.6 L563 645.2 L564.4 644.9 L565.8 644.6 L567.2 644.3 L568.5 644 L569.9 643.7 L571.2 643.4 L572.6 643 L574 642.6 L575.5 642.2 L576.9 641.8 L578.3 641.4 L579.8 640.9 L581.2 640.5 L582.5 640 L583.9 639.4 L585.2 638.8 L586.4 638.2 L587.6 637.5 L588.8 636.8 L589.9 636.1 L591 635.3 L592.1 634.5 L593.2 633.7 L594.3 632.8 L595.3 632 L596.4 631 L597.5 630 L598.6 629 L599.6 627.9 L600.6 626.8 L601.6 625.8 L602.6 624.7 L603.6 623.6 L604.5 622.6 L605.4 621.5 L606.4 620.5 L607.3 619.5 L608.1 618.4 L608.9 617.4 L609.7 616.3 L610.4 615.3 L611.1 614.2 L611.7 613 L612.2 611.9 L612.7 610.8 L613.2 609.7 L613.7 608.5 L614.3 607.3 L614.9 606.1 L615.4 604.9 L616 603.6 L616.6 602.3 L617.1 601 L617.6 599.8 L618 598.5 L618.4 597.1 L618.9 595.7 L619.3 594.3 L619.7 592.9 L620 591.5 L620.4 590.1 L620.7 588.8 L621 587.5 L621.2 586.1 L621.5 584.8 L621.7 583.4 L621.9 582 L622.2 580.7 L622.4 579.3 L622.6 578 L622.8 576.6 L623.1 575.2 L623.3 573.8 L623.6 572.4 L623.8 571 L624 569.5 L624.3 568 L624.5 566.4 L624.8 564.5 L625 562.5 L625.2 560.5 L625.5 558.3 L625.7 556.1 L626 553.9 L626.2 551.6 L626.5 549.4 L626.7 547.2 L627 545 L627.3 542.8 L627.6 540.6 L627.9 538.4 L628.2 536.2 L628.5 534 L628.8 531.8 L629.1 529.6 L629.4 527.4 L629.8 525.3 L630.1 523.2 L630.4 521.3 L630.7 519.5 L631.1 517.7 L631.4 515.9 L631.8 514.2 L632.1 512.4 L632.5 510.6 L632.8 508.8 L633.2 506.9 L633.5 505 L633.9 502.6 L634.3 500.2 L634.7 497.7 L635.1 495.2 L635.5 492.6 L635.9 490 L636.3 487.4 L636.7 484.9 L637.1 482.4 L637.5 480 L637.8 477.9 L638.1 475.9 L638.5 473.8 L638.8 471.8 L639.1 469.9 L639.4 467.9 L639.7 465.9 L639.9 464 L640.2 462 L640.5 460 L640.8 458 L641 456 L641.3 454 L641.5 452 L641.8 450 L642 448 L642.3 446 L642.5 444 L642.8 442 L643 440 L643.3 438 L643.5 436 L643.8 434.1 L644 432.1 L644.3 430.1 L644.5 428.2 L644.8 426.2 L645 424.1 L645.3 422.1 L645.5 420 L645.8 417.6 L646 415.3 L646.2 412.9 L646.5 410.4 L646.7 408 L646.9 405.5 L647.2 402.9 L647.4 400.4 L647.7 397.7 L648 395 L648.4 391.6 L648.9 388.1 L649.3 384.4 L649.8 380.7 L650.3 376.9 L650.9 373.1 L651.4 369.3 L651.9 365.5 L652.4 361.7 L652.9 358 L653.4 354.4 L653.8 350.8 L654.3 347.2 L654.8 343.6 L655.2 340 L655.7 336.4 L656.1 332.8 L656.6 329.2 L657 325.6 L657.4 322 L657.8 318.3 L658.2 314.5 L658.6 310.6 L659 306.7 L659.3 302.8 L659.7 299 L660 295.4 L660.4 292 L660.7 288.8 L661 286 L661.2 284.4 L661.4 282.9 L661.5 281.6 L661.7 280.4 L661.9 279.1 L662 277.9 L662.2 276.7 L662.3 275.3 L662.5 273.8 L662.7 271.7 L662.9 269.5 L663 267.1 L663.2 264.7 L663.3 262.2 L663.5 259.7 L663.6 257.1 L663.8 254.7 L664.1 252.3 L664.3 250 L664.5 248.1 L664.8 246.2 L665.1 244.4 L665.4 242.6 L665.8 240.8 L666.1 239 L666.4 237.2 L666.7 235.5 L667 233.7 L667.3 231.9 L667.6 230.1 L667.8 228.4 L668.1 226.6 L668.3 224.9 L668.6 223.1 L668.8 221.3 L669 219.6 L669.2 217.7 L669.5 215.9 L669.7 214 L669.9 211.7 L670.2 209.3 L670.3 206.8 L670.5 204.3 L670.7 201.8 L670.9 199.2 L671.1 196.8 L671.4 194.4 L671.7 192.1 L672.1 190 L672.4 188.5 L672.8 187.2 L673.2 185.9 L673.6 184.6 L674.1 183.4 L674.5 182.2 L675 180.9 L675.4 179.6 L675.8 178.3 L676.2 176.8 L676.7 174.7 L677.1 172.5 L677.5 170.1 L677.8 167.7 L678.2 165.2 L678.6 162.7 L678.9 160.3 L679.3 157.9 L679.7 155.6 L680.1 153.4 L680.5 151.7 L680.8 150 L681.2 148.4 L681.6 146.8 L682 145.2 L682.4 143.7 L682.8 142.2 L683.2 140.8 L683.6 139.4 L684 138 L684.4 136.6 L684.8 135.2 L685.2 133.9 L685.6 132.7 L686 131.4 L686.3 130.2 L686.7 128.9 L687.1 127.4 L687.4 126 L687.7 124.5 L688 123.1 L688.4 121.7 L688.8 120.3 L689.2 119 L689.7 117.8 L690.1 116.5 L690.6 115.3 L691.2 114.2 L691.7 113.1 L692.4 111.9 L693.1 110.8 L693.8 109.8 L694.6 108.8 L695.4 107.8 L696.3 106.9 L697.2 106 L698.2 105.2 L699.2 104.4 L700.3 103.8 L701.4 103.1 L702.5 102.3 L703.4 101.4 L704.2 100.3 L705.1 99.2 L705.9 98.4 L706.8 98 L708 98.3 L709.2 99.2 L710.4 100.1 L711.5 100.6 L712.6 101.1 L713.7 101.7 L714.7 102.3 L715.8 103.2 L716.7 104.1 L717.6 105.2 L718.2 106.3 L718.7 107.6 L719.2 108.9 L719.7 110.2 L720.3 111.3 L720.9 112.5 L721.5 113.6 L722.1 114.8 L722.6 116 L723 117.1 L723.4 118.3 L723.8 119.5 L724.1 120.8 L724.4 122 L724.8 123.2 L725.2 124.4 L725.5 125.6 L725.9 126.8 L726.2 128 L726.6 129.2 L726.9 130.4 L727.2 131.8 L727.5 133.2 L727.8 134.6 L728.1 136 L728.4 137.6 L728.7 138.8 L729 140.1 L729.4 141.4 L729.7 142.8 L730.1 144.2 L730.5 145.6 L730.8 147.1 L731.2 148.7 L731.5 150.3 L731.9 152.4 L732.3 154.5 L732.6 156.8 L733 159.2 L733.3 161.7 L733.6 164.1 L734 166.6 L734.3 169 L734.7 171.3 L735 173.6 L735.3 175.5 L735.6 177.4 L735.9 179.3 L736.2 181.2 L736.5 183 L736.8 184.8 L737.1 186.6 L737.4 188.5 L737.7 190.4 L738 192.3 L738.3 194.4 L738.6 196.5 L738.9 198.7 L739.2 200.9 L739.5 203.1 L739.8 205.3 L740.1 207.5 L740.4 209.7 L740.7 211.9 L741 214.2 L741.3 216.6 L741.6 219.1 L741.9 221.7 L742.3 224.2 L742.6 226.8 L742.9 229.3 L743.2 231.8 L743.5 234.3 L743.7 236.7 L744 239.1 L744.2 241.1 L744.4 243.1 L744.6 245 L744.9 246.9 L745.1 248.8 L745.2 250.7 L745.4 252.5 L745.6 254.3 L745.8 256.1 L746 257.8 L746.2 259.2 L746.3 260.6 L746.5 262 L746.6 263.3 L746.7 264.6 L746.9 265.9 L747 267.3 L747.2 268.6 L747.3 270.1 L747.5 271.6 L747.7 273.7 L747.9 275.9 L748.2 278.1 L748.4 280.4 L748.7 282.8 L748.9 285.2 L749.1 287.7 L749.4 290.1 L749.6 292.6 L749.8 295 L750 297.6 L750.2 300.3 L750.3 302.9 L750.5 305.6 L750.7 308.3 L750.8 311 L751 313.8 L751.1 316.5 L751.3 319.3 L751.5 322 L751.7 324.8 L751.9 327.7 L752.2 330.6 L752.4 333.5 L752.7 336.3 L752.9 339.2 L753.2 342.1 L753.5 345 L753.7 347.9 L754 350.8 L754.3 353.7 L754.6 356.8 L754.9 359.9 L755.2 363 L755.5 366.1 L755.9 369.1 L756.2 372 L756.5 374.8 L756.7 377.3 L757 379.6 L757.2 381.3 L757.4 382.7 L757.5 384 L757.7 385.2 L757.8 386.5 L758 388.1 L758.2 390 L758.6 394.1 L758.9 399.1 L759.4 404.8 L759.8 411.1 L760.3 417.8 L760.7 424.8 L761.2 431.9 L761.7 438.9 L762.3 445.7 L762.8 452.2 L763.4 458.4 L763.9 464.7 L764.5 470.9 L765.2 477.1 L765.8 483.4 L766.4 489.6 L767.1 495.8 L767.7 502 L768.4 508.3 L769 514.5 L769.6 520.8 L770.2 527.3 L770.9 533.8 L771.5 540.4 L772.1 546.9 L772.7 553.4 L773.4 559.6 L774 565.6 L774.7 571.3 L775.3 576.7 L775.8 580.2 L776.3 583.6 L776.8 586.8 L777.2 589.9 L777.7 592.9 L778.2 595.8 L778.7 598.8 L779.2 601.7 L779.6 604.7 L780 607.8 L780.4 611 L780.7 614.3 L781 617.6 L781.3 620.9 L781.5 624.3 L781.8 627.6 L782.1 630.8 L782.3 634 L782.7 637 L783 640 L783.3 642.3 L783.6 644.6 L783.9 646.8 L784.2 649 L784.5 651.1 L784.9 653.2 L785.2 655.3 L785.6 657.4 L786 659.5 L786.5 661.6 L787 663.8 L787.5 666 L788.1 668.2 L788.7 670.4 L789.3 672.6 L789.9 674.8 L790.5 677 L791.2 679.1 L791.8 681.2 L792.5 683.2 L793.1 684.9 L793.7 686.6 L794.3 688.3 L795 689.9 L795.6 691.5 L796.3 693.1 L796.9 694.6 L797.6 696.2 L798.3 697.7 L799 699.2 L799.7 700.6 L800.3 701.9 L801 703.3 L801.6 704.6 L802.3 705.9 L803 707.2 L803.7 708.4 L804.5 709.7 L805.2 710.8 L806 712 L806.9 713.2 L807.9 714.4 L808.8 715.6 L809.8 716.7 L810.8 717.7 L811.8 718.8 L812.8 719.9 L813.8 721" fill="none" stroke="#2f9898" stroke-width="1.8" stroke-linejoin="round" stroke-linecap="round"/>
<path d="M251.4 720.5 L256.3 720.4 L261.3 720.3 L266.4 720.3 L271.4 720.2 L276.4 720.1 L281.4 720 L286.3 720 L291 719.9 L295.6 719.7 L300 719.6 L303.3 719.5 L306.4 719.4 L309.5 719.3 L312.5 719.3 L315.4 719.2 L318.3 719 L321.1 718.9 L324 718.7 L326.9 718.4 L329.8 718.1 L332.7 717.7 L335.6 717.2 L338.4 716.7 L341.2 716.2 L344 715.6 L346.9 714.9 L349.8 714.3 L352.7 713.6 L355.8 713 L358.9 712.3 L363 711.5 L367.3 710.6 L371.8 709.7 L376.5 708.8 L381.1 707.9 L385.8 706.9 L390.3 706 L394.6 705 L398.7 704.1 L402.5 703.2 L404.9 702.6 L407.3 701.9 L409.5 701.3 L411.6 700.7 L413.6 700.1 L415.6 699.4 L417.6 698.8 L419.6 698.2 L421.7 697.5 L423.8 696.9 L426 696.2 L428.2 695.5 L430.5 694.9 L432.7 694.2 L434.9 693.5 L437.1 692.8 L439.4 692.1 L441.6 691.4 L443.8 690.7 L446 690 L448.2 689.3 L450.4 688.7 L452.6 688 L454.9 687.3 L457.1 686.6 L459.3 686 L461.4 685.3 L463.4 684.7 L465.2 684.1 L466.9 683.5 L468.4 682.9 L469.8 682.4 L471 681.9 L472.2 681.4 L473.5 680.8 L475 680.2 L476.4 679.6 L478 679 L479.5 678.3 L481.2 677.6 L482.9 676.9 L484.7 676.2 L486.5 675.5 L488.3 674.7 L490.2 674 L492 673.2 L494.2 672.3 L496.5 671.4 L498.9 670.4 L501.3 669.5 L503.7 668.5 L506.2 667.5 L508.7 666.5 L511.1 665.5 L513.6 664.6 L516 663.6 L518.4 662.6 L520.8 661.7 L523.3 660.7 L525.7 659.8 L528.2 658.8 L530.6 657.9 L533 656.9 L535.4 656 L537.7 655 L540 654 L542.1 653.1 L544.3 652.1 L546.4 651.1 L548.6 650 L550.7 649 L552.7 648 L554.7 647.1 L556.6 646.2 L558.3 645.3 L560 644.6 L561.4 644 L562.6 643.5 L563.8 643 L565 642.6 L566.1 642.2 L567.2 641.8 L568.4 641.3 L569.6 640.8 L570.8 640.3 L572 639.8 L573.2 639.3 L574.4 638.8 L575.6 638.3 L576.8 637.9 L578.2 637.4 L579.6 637 L581 636.6 L582.4 636.3 L583.8 635.9 L585.2 635.4 L586.4 635 L587.6 634.5 L588.9 634 L590.1 633.5 L591.3 633 L592.5 632.5 L593.6 632 L595 631.4 L596.4 630.8 L597.7 630.2 L599 629.5 L600.3 628.7 L601.3 627.9 L602.3 627 L603.3 626.1 L604.3 625.1 L605.2 624 L606.1 623 L607 622 L607.9 620.9 L608.8 619.8 L609.7 618.7 L610.5 617.6 L611.3 616.4 L612 615.3 L612.6 614.2 L613.2 613.1 L613.8 611.9 L614.3 610.8 L614.9 609.7 L615.4 608.5 L616 607.3 L616.6 606.1 L617.1 604.8 L617.7 603.6 L618.2 602.3 L618.8 601 L619.3 599.8 L619.8 598.6 L620.3 597.4 L620.8 596.2 L621.2 595 L621.7 593.8 L622.1 592.6 L622.6 591.2 L623 589.9 L623.5 588.6 L623.9 587.2 L624.2 585.7 L624.6 584.2 L624.8 582.9 L625.1 581.6 L625.3 580.2 L625.4 578.8 L625.6 577.4 L625.8 575.9 L625.9 574.4 L626.1 572.9 L626.3 571.5 L626.5 570 L626.7 568.5 L627 567 L627.2 565.5 L627.5 564 L627.7 562.5 L628 561 L628.2 559.5 L628.5 558 L628.7 556.5 L629 555 L629.2 553.5 L629.5 552 L629.7 550.5 L630 549 L630.2 547.6 L630.5 546.1 L630.7 544.6 L631 543.1 L631.2 541.5 L631.5 540 L631.8 538.4 L632.1 536.7 L632.4 535.1 L632.7 533.4 L633 531.7 L633.3 530 L633.6 528.3 L633.9 526.6 L634.1 524.9 L634.4 523.2 L634.6 521.4 L634.9 519.7 L635.1 517.9 L635.3 516.1 L635.5 514.3 L635.7 512.5 L635.9 510.7 L636.1 508.8 L636.3 506.9 L636.5 505 L636.8 502.6 L637 500.1 L637.3 497.5 L637.6 494.9 L637.9 492.2 L638.2 489.6 L638.5 487 L638.8 484.5 L639 482.2 L639.3 480 L639.5 478.4 L639.7 476.9 L639.9 475.5 L640.1 474.1 L640.3 472.8 L640.5 471.4 L640.7 470 L640.8 468.6 L641 467 L641.2 465 L641.4 463 L641.5 460.9 L641.7 458.7 L641.8 456.5 L642 454.2 L642.1 451.9 L642.3 449.6 L642.4 447.3 L642.6 445 L642.8 442.6 L643 440.1 L643.2 437.6 L643.4 435.1 L643.6 432.6 L643.8 430.1 L644 427.5 L644.2 425 L644.4 422.5 L644.6 420 L644.8 417.5 L645.1 415.1 L645.3 412.7 L645.5 410.2 L645.8 407.8 L646 405.4 L646.3 402.9 L646.5 400.3 L646.7 397.7 L647 395 L647.3 391.6 L647.6 388.1 L647.9 384.4 L648.2 380.7 L648.6 376.9 L648.9 373.1 L649.2 369.3 L649.5 365.5 L649.9 361.7 L650.2 358 L650.5 354.4 L650.9 350.8 L651.3 347.2 L651.6 343.6 L652 340 L652.4 336.4 L652.7 332.8 L653.1 329.2 L653.4 325.6 L653.8 322 L654.2 318.3 L654.5 314.4 L654.9 310.5 L655.2 306.6 L655.6 302.7 L655.9 298.8 L656.3 295.1 L656.6 291.5 L656.9 288.1 L657.2 285 L657.4 283 L657.6 281.1 L657.8 279.4 L658 277.7 L658.1 276 L658.3 274.4 L658.5 272.8 L658.7 271.2 L658.8 269.5 L659 267.8 L659.2 266 L659.3 264.2 L659.5 262.5 L659.7 260.7 L659.8 258.9 L660 257.1 L660.1 255.3 L660.3 253.5 L660.5 251.7 L660.7 249.9 L660.9 248.1 L661.1 246.3 L661.4 244.5 L661.6 242.7 L661.9 240.9 L662.1 239.1 L662.4 237.3 L662.6 235.5 L662.9 233.7 L663.1 231.9 L663.3 230.1 L663.5 228.3 L663.7 226.5 L663.9 224.8 L664.1 223 L664.3 221.2 L664.4 219.4 L664.6 217.6 L664.8 215.8 L665 214 L665.2 212.1 L665.4 210.2 L665.5 208.3 L665.7 206.4 L665.9 204.5 L666.1 202.6 L666.3 200.7 L666.5 198.8 L666.7 196.9 L667 195 L667.3 193.2 L667.6 191.4 L668 189.6 L668.4 187.8 L668.8 186 L669.2 184.2 L669.6 182.4 L669.9 180.6 L670.3 178.7 L670.7 176.8 L671.1 174.6 L671.5 172.2 L671.9 169.9 L672.4 167.4 L672.8 165 L673.2 162.6 L673.6 160.2 L673.9 157.8 L674.3 155.6 L674.6 153.4 L674.8 151.7 L675 150 L675.2 148.3 L675.3 146.6 L675.5 145 L675.6 143.4 L675.8 141.9 L676 140.4 L676.3 139 L676.6 137.6 L677 136.2 L677.5 134.9 L678 133.7 L678.6 132.5 L679.1 131.4 L679.7 130.2 L680.2 128.9 L680.7 127.7 L681.1 126.4 L681.5 125 L682 123.7 L682.4 122.4 L682.8 121.1 L683.3 119.9 L683.8 118.8 L684.5 117.5 L685.2 116.4 L685.9 115.3 L686.7 114.2 L687.4 113.1 L688.1 111.9 L688.8 110.8 L689.6 109.6 L690.3 108.5 L691 107.3 L691.7 106.1 L692.4 104.9 L693.1 103.6 L693.8 102.5 L694.6 101.6 L695.7 100.7 L696.9 100 L698.2 99.4 L699.2 98.9 L700.3 98.4 L701.4 97.9 L702.5 97.3 L703.6 96.6 L704.6 95.8 L705.7 95 L706.8 94.4 L708.1 94 L709.5 93.8 L711 93.6 L712.6 93.5 L713.8 93.4 L715 93.4 L716.3 93.4 L717.7 93.4 L719.1 93.4 L720.6 93.5 L722 93.5 L723.5 93.5 L725 93.5 L726.6 93.4 L728.2 93.4 L729.9 93.2 L731.6 93.1 L733.3 93 L735 92.9 L736.7 92.8 L738.3 92.8 L739.9 92.8 L741.4 93 L742.9 93.2 L744.4 93.5 L745.8 93.9 L747.3 94.3 L748.6 94.7 L749.9 95.3 L751.1 95.9 L752.3 96.5 L753.5 97.3 L754.7 98.3 L755.7 99.3 L756.7 100.3 L757.7 101.5 L758.6 102.8 L759.3 103.8 L760 105 L760.6 106.1 L761.3 107.4 L761.9 108.7 L762.5 110 L763.1 111.3 L763.7 112.6 L764.2 113.9 L764.8 115.2 L765.4 116.6 L766 118 L766.5 119.3 L767.1 120.7 L767.6 122.1 L768.1 123.5 L768.6 124.9 L769.1 126.3 L769.5 127.7 L769.9 129.1 L770.3 130.4 L770.7 131.8 L771 133.1 L771.3 134.5 L771.7 135.9 L772 137.3 L772.3 138.7 L772.6 140.2 L772.9 141.8 L773.2 143.4 L773.6 145.1 L773.9 146.8 L774.2 148.5 L774.5 150.2 L774.8 152 L775.1 153.8 L775.4 155.6 L775.7 157.4 L776.1 159.5 L776.5 161.7 L776.9 163.8 L777.3 166 L777.7 168.3 L778.1 170.5 L778.5 172.9 L778.9 175.2 L779.3 177.6 L779.7 180 L780.2 182.9 L780.6 185.8 L781.1 188.8 L781.6 191.8 L782 194.8 L782.5 198 L783 201.1 L783.4 204.4 L783.9 207.7 L784.3 211.1 L784.8 215.4 L785.3 219.8 L785.8 224.4 L786.3 229.1 L786.7 233.9 L787.2 238.7 L787.6 243.5 L788.1 248.3 L788.5 253.1 L789 257.8 L789.5 262.5 L790 267.1 L790.4 271.8 L790.9 276.5 L791.4 281.2 L791.9 285.8 L792.4 290.5 L792.8 295.2 L793.3 299.8 L793.7 304.5 L794.1 309.2 L794.5 313.8 L794.9 318.5 L795.2 323.1 L795.6 327.8 L795.9 332.5 L796.3 337.1 L796.6 341.8 L797 346.4 L797.4 351.1 L797.8 355.8 L798.3 360.6 L798.7 365.4 L799.2 370.3 L799.7 375.1 L800.1 379.9 L800.6 384.6 L801.1 389.2 L801.6 393.7 L802 398 L802.4 401.4 L802.7 404.7 L803.1 407.9 L803.4 410.9 L803.8 414 L804.2 417.1 L804.5 420.1 L804.8 423.3 L805.2 426.6 L805.5 430 L805.9 434.3 L806.2 438.8 L806.6 443.4 L806.9 448.1 L807.2 452.8 L807.6 457.7 L807.9 462.5 L808.2 467.3 L808.6 472.1 L809 476.8 L809.4 481.5 L809.9 486.1 L810.3 490.8 L810.8 495.5 L811.3 500.2 L811.8 504.8 L812.3 509.5 L812.7 514.2 L813.2 518.8 L813.7 523.5 L814.2 528.2 L814.6 532.9 L815 537.5 L815.5 542.2 L815.9 546.9 L816.3 551.6 L816.8 556.3 L817.3 560.9 L817.8 565.6 L818.3 570.3 L818.9 575.1 L819.5 580 L820.2 585.1 L820.8 590.2 L821.5 595.2 L822.2 600.1 L822.9 604.8 L823.5 609.2 L824.1 613.3 L824.6 617 L824.9 619 L825.1 620.8 L825.4 622.5 L825.6 624.2 L825.9 625.7 L826.1 627.2 L826.3 628.7 L826.5 630.2 L826.7 631.7 L826.9 633.2 L827.1 634.7 L827.2 636.2 L827.3 637.7 L827.5 639.2 L827.6 640.6 L827.7 642.1 L827.9 643.5 L828.1 644.9 L828.3 646.4 L828.6 647.7 L828.8 649.1 L829.2 650.4 L829.5 651.7 L829.8 653 L830.2 654.3 L830.6 655.6 L830.9 657 L831.3 658.3 L831.6 659.6 L831.9 660.9 L832.3 662.2 L832.6 663.6 L832.9 664.9 L833.2 666.2 L833.5 667.5 L833.9 668.8 L834.2 670.2 L834.5 671.5 L834.9 672.8 L835.3 674.1 L835.6 675.4 L836 676.8 L836.4 678.1 L836.7 679.4 L837.1 680.7 L837.5 682.1 L837.9 683.4 L838.4 684.7 L838.8 686 L839.3 687.3 L839.8 688.7 L840.3 690 L840.8 691.3 L841.4 692.7 L841.9 694 L842.4 695.3 L843 696.6 L843.6 697.9 L844.1 699.2 L844.7 700.6 L845.2 702 L845.7 703.4 L846.3 704.8 L846.8 706.2 L847.4 707.5 L848 708.8 L848.7 710 L849.4 711.1 L850.3 712.2 L851.2 713.3 L852.2 714.3 L853.2 715.3 L854.1 716.2 L855.1 717 L856 717.7 L857 718.5 L858 719.1 L859 719.7 L860 720.3" fill="none" stroke="#ff2cff" stroke-width="1.8" stroke-linejoin="round" stroke-linecap="round"/>
<path d="M240 720.5 L246 720.4 L252.2 720.4 L258.3 720.5 L264.5 720.5 L270.6 720.6 L276.7 720.5 L282.7 720.5 L288.6 720.3 L294.4 720 L300 719.6 L304.7 719.1 L309.3 718.6 L313.8 717.9 L318.2 717.2 L322.6 716.4 L326.9 715.6 L331.3 714.8 L335.6 713.9 L339.9 713.1 L344.3 712.3 L348.8 711.5 L353.3 710.7 L357.9 709.8 L362.6 709 L367.2 708.1 L371.7 707.2 L376.1 706.3 L380.3 705.4 L384.3 704.5 L388 703.6 L390.5 702.9 L392.8 702.3 L395 701.6 L397.1 700.9 L399.2 700.3 L401.2 699.6 L403.2 698.9 L405.2 698.2 L407.3 697.4 L409.4 696.7 L411.6 695.9 L413.8 695.2 L416 694.4 L418.3 693.7 L420.5 692.9 L422.7 692.1 L424.9 691.2 L427.1 690.4 L429.3 689.5 L431.5 688.6 L433.7 687.6 L435.9 686.6 L438 685.6 L440.2 684.5 L442.4 683.4 L444.5 682.3 L446.6 681.2 L448.7 680.1 L450.7 679.1 L452.6 678 L454.2 677.1 L455.7 676.2 L457.2 675.3 L458.7 674.4 L460.2 673.5 L461.6 672.7 L463 671.8 L464.4 671 L465.6 670.2 L466.9 669.4 L468.2 668.6 L469.3 667.9 L470.4 667.3 L471.4 666.6 L472.5 665.9 L473.7 665.2 L475 664.4 L476.4 663.5 L477.9 662.6 L479.5 661.6 L481.2 660.5 L482.9 659.5 L484.7 658.4 L486.5 657.3 L488.3 656.2 L490.1 655.1 L492 654 L494.2 652.7 L496.5 651.4 L498.9 650.1 L501.3 648.8 L503.7 647.5 L506.2 646.1 L508.7 644.8 L511.1 643.5 L513.6 642.1 L516 640.8 L518.4 639.5 L520.8 638.1 L523.3 636.8 L525.7 635.4 L528.1 634.1 L530.6 632.8 L533 631.4 L535.3 630.1 L537.7 628.9 L540 627.6 L542.1 626.5 L544.2 625.3 L546.4 624.1 L548.5 622.9 L550.6 621.7 L552.7 620.6 L554.6 619.6 L556.5 618.6 L558.3 617.7 L560 617 L561.6 616.4 L563 615.9 L564.4 615.5 L565.7 615.1 L567 614.8 L568.4 614.4 L569.8 614 L571.2 613.6 L572.6 613.1 L574 612.7 L575.4 612.3 L576.8 611.9 L578.2 611.5 L579.6 611.1 L581 610.7 L582.4 610.3 L583.8 609.9 L585.2 609.4 L586.4 608.9 L587.6 608.3 L588.8 607.7 L590 607.1 L591.2 606.4 L592.4 605.8 L593.6 605.2 L594.8 604.6 L596 604.1 L597.3 603.5 L598.5 602.9 L599.7 602.3 L600.9 601.7 L602 601 L603.2 600.1 L604.4 599.2 L605.5 598.2 L606.6 597.2 L607.6 596.2 L608.7 595.1 L609.7 594 L610.8 592.9 L611.8 591.8 L612.8 590.7 L613.7 589.6 L614.6 588.4 L615.4 587.3 L616.1 586.2 L616.8 585.1 L617.5 584 L618.2 582.8 L618.8 581.7 L619.5 580.4 L620.1 579.1 L620.7 577.8 L621.3 576.4 L622 575 L622.6 573.8 L623.3 572.6 L623.9 571.4 L624.6 570.1 L625.3 568.8 L625.9 567.4 L626.5 566 L626.9 564.7 L627.3 563.4 L627.7 562.1 L628 560.6 L628.3 559.2 L628.7 557.8 L629 556.3 L629.3 554.9 L629.6 553.4 L630 552 L630.4 550.6 L630.8 549.2 L631.1 547.8 L631.5 546.4 L631.9 545 L632.3 543.6 L632.7 542.2 L633.2 540.8 L633.6 539.4 L634 538 L634.5 536.5 L634.9 535.1 L635.4 533.6 L635.9 532.1 L636.5 530.6 L637 529.1 L637.5 527.6 L637.9 526.2 L638.4 524.7 L638.8 523.2 L639.2 521.8 L639.5 520.4 L639.9 519.1 L640.2 517.7 L640.5 516.4 L640.8 515 L641.1 513.6 L641.4 512.1 L641.7 510.6 L642 509 L642.4 506.6 L642.7 504.1 L643 501.4 L643.3 498.6 L643.6 495.8 L643.9 492.9 L644.2 490.1 L644.5 487.3 L644.8 484.6 L645.2 482 L645.5 479.9 L645.9 477.9 L646.2 475.9 L646.6 473.9 L646.9 472 L647.3 470.1 L647.7 468.1 L648 466.2 L648.4 464.2 L648.7 462.1 L649.1 459.7 L649.4 457.3 L649.8 454.9 L650.1 452.5 L650.4 450 L650.7 447.5 L651.1 444.9 L651.4 442.3 L651.7 439.6 L652 436.9 L652.4 433.4 L652.7 429.7 L653.1 425.8 L653.4 421.8 L653.7 417.7 L654.1 413.8 L654.4 409.9 L654.7 406.3 L655.1 403 L655.4 400 L655.6 398.3 L655.8 396.7 L656.1 395.4 L656.3 394 L656.5 392.8 L656.7 391.5 L656.9 390.1 L657.2 388.5 L657.4 386.8 L657.8 383.8 L658.2 380.5 L658.7 376.9 L659.1 373 L659.6 369.1 L660.1 365 L660.6 360.9 L661 356.8 L661.5 352.8 L661.9 349 L662.3 345.4 L662.7 341.7 L663 338.1 L663.4 334.5 L663.7 330.9 L664 327.4 L664.4 323.8 L664.7 320.2 L665.1 316.6 L665.5 313 L665.9 309.3 L666.4 305.5 L666.8 301.6 L667.3 297.7 L667.8 293.8 L668.3 290 L668.7 286.4 L669.2 283 L669.6 279.8 L670 277 L670.2 275.4 L670.5 273.9 L670.7 272.6 L670.9 271.3 L671.1 270.1 L671.3 268.9 L671.5 267.6 L671.8 266.4 L672 265 L672.3 263.6 L672.6 262.2 L672.8 260.7 L673.2 259.3 L673.5 257.8 L673.8 256.4 L674.1 254.8 L674.4 253.3 L674.7 251.7 L675 250 L675.4 247.8 L675.7 245.4 L676.1 243 L676.4 240.5 L676.8 237.9 L677.1 235.3 L677.5 232.7 L677.8 230.1 L678.2 227.5 L678.5 225 L678.8 222.5 L679.2 220 L679.5 217.5 L679.9 215 L680.2 212.4 L680.6 209.9 L680.9 207.4 L681.3 204.9 L681.6 202.5 L682 200 L682.4 197.6 L682.8 195.3 L683.2 193 L683.6 190.7 L684 188.4 L684.4 186.1 L684.8 183.8 L685.2 181.4 L685.6 179.1 L686 176.8 L686.4 174.4 L686.8 172 L687.2 169.7 L687.6 167.3 L688 164.9 L688.4 162.5 L688.7 160.1 L689.2 157.7 L689.6 155.4 L690 153 L690.4 150.7 L690.9 148.3 L691.3 145.9 L691.8 143.5 L692.3 141.1 L692.8 138.8 L693.2 136.5 L693.7 134.3 L694.2 132.3 L694.6 130.4 L695 128.7 L695.4 127.2 L695.8 125.7 L696.2 124.3 L696.6 123 L697 121.7 L697.4 120.3 L697.8 119 L698.2 117.8 L698.6 116.5 L699 115.3 L699.4 114.1 L699.8 112.9 L700.3 111.7 L700.8 110.3 L701.4 109 L702 107.6 L702.6 106.3 L703.2 105 L703.9 103.7 L704.6 102.5 L705.3 101.2 L706 99.9 L706.7 98.7 L707.5 97.5 L708.3 96.6 L709 95.8 L710 95 L711 94.5 L712 94.4 L712.9 94.8 L713.8 95.5 L714.6 96.5 L715.5 97.5 L716.4 98.6 L717.2 99.8 L718.1 101.1 L718.9 102.5 L719.7 103.7 L720.4 104.7 L721.2 105.7 L721.9 106.7 L722.6 107.7 L723.3 108.8 L723.9 109.9 L724.4 111.1 L724.8 112.3 L725.3 113.5 L725.7 114.7 L726.2 116 L726.6 117.2 L727.1 118.4 L727.5 119.7 L727.9 120.9 L728.3 122.2 L728.7 123.4 L729.1 124.6 L729.5 125.8 L729.9 127.1 L730.3 128.3 L730.6 129.5 L731 130.6 L731.3 131.8 L731.7 133.2 L732 134.6 L732.4 136 L732.7 137.6 L732.9 138.8 L733.1 140 L733.3 141.3 L733.5 142.7 L733.7 144.1 L733.9 145.6 L734.1 147.1 L734.3 148.7 L734.5 150.3 L734.8 152.4 L735.1 154.6 L735.3 156.9 L735.6 159.2 L735.9 161.7 L736.2 164.1 L736.6 166.6 L736.9 169 L737.2 171.3 L737.5 173.6 L737.8 175.5 L738.1 177.5 L738.4 179.3 L738.7 181.2 L739 183 L739.3 184.8 L739.6 186.6 L739.9 188.5 L740.2 190.4 L740.5 192.3 L740.8 194.4 L741.1 196.5 L741.4 198.7 L741.7 200.9 L742 203 L742.3 205.3 L742.6 207.5 L742.9 209.7 L743.2 211.9 L743.5 214.2 L743.8 216.6 L744.1 219.1 L744.4 221.7 L744.7 224.2 L745 226.8 L745.3 229.3 L745.5 231.8 L745.8 234.3 L746.1 236.7 L746.3 239.1 L746.5 241.1 L746.7 243.1 L746.9 245 L747 246.9 L747.2 248.8 L747.3 250.7 L747.5 252.5 L747.7 254.3 L747.8 256.1 L748 257.8 L748.1 259.2 L748.3 260.6 L748.4 262 L748.6 263.3 L748.7 264.6 L748.9 265.9 L749 267.3 L749.2 268.6 L749.3 270.1 L749.5 271.6 L749.7 273.7 L749.9 275.9 L750.2 278.1 L750.4 280.4 L750.7 282.8 L750.9 285.2 L751.1 287.7 L751.4 290.1 L751.6 292.6 L751.8 295 L752 297.6 L752.2 300.3 L752.3 302.9 L752.5 305.6 L752.7 308.3 L752.8 311 L753 313.8 L753.1 316.5 L753.3 319.3 L753.5 322 L753.7 324.8 L753.9 327.7 L754.2 330.6 L754.4 333.5 L754.7 336.3 L754.9 339.2 L755.2 342.1 L755.5 345 L755.7 347.9 L756 350.8 L756.3 353.7 L756.6 356.8 L756.8 359.9 L757.1 363 L757.4 366.1 L757.7 369.1 L758 372 L758.3 374.8 L758.6 377.3 L758.8 379.6 L759 381.3 L759.2 382.7 L759.3 384 L759.5 385.2 L759.6 386.5 L759.8 388.1 L760 390 L760.4 394.1 L760.7 399.1 L761.1 404.8 L761.6 411.1 L762 417.8 L762.5 424.8 L763 431.9 L763.5 438.9 L764 445.7 L764.5 452.2 L765.1 458.4 L765.6 464.7 L766.2 470.9 L766.9 477.1 L767.5 483.4 L768.1 489.6 L768.8 495.8 L769.4 502 L770.1 508.3 L770.7 514.5 L771.3 520.8 L772 527.3 L772.6 533.8 L773.2 540.4 L773.8 546.9 L774.5 553.4 L775.1 559.6 L775.7 565.6 L776.4 571.3 L777 576.7 L777.5 580.2 L777.9 583.6 L778.4 586.8 L778.9 589.9 L779.3 592.9 L779.8 595.8 L780.3 598.8 L780.7 601.7 L781.1 604.7 L781.5 607.8 L781.9 611 L782.2 614.3 L782.5 617.6 L782.7 620.9 L783 624.3 L783.2 627.6 L783.5 630.8 L783.8 634 L784.1 637 L784.5 640 L784.8 642.3 L785.2 644.6 L785.5 646.8 L785.9 649 L786.3 651.1 L786.7 653.2 L787.1 655.3 L787.5 657.4 L788 659.5 L788.5 661.6 L789 663.8 L789.6 666 L790.2 668.2 L790.9 670.4 L791.5 672.6 L792.2 674.8 L792.9 677 L793.6 679.1 L794.3 681.2 L795 683.2 L795.6 685 L796.3 686.8 L796.9 688.6 L797.6 690.3 L798.3 692 L799 693.7 L799.7 695.4 L800.4 697 L801.2 698.5 L802 700 L802.7 701.2 L803.4 702.4 L804.2 703.6 L804.9 704.7 L805.7 705.8 L806.5 706.8 L807.3 707.9 L808.2 708.9 L809.1 710 L810 711 L811 712.1 L812.1 713.2 L813.3 714.2 L814.4 715.3 L815.6 716.3 L816.9 717.3 L818.1 718.3 L819.3 719.3 L820.5 720.4 L821.7 721.4" fill="none" stroke="#929228" stroke-width="1.8" stroke-linejoin="round" stroke-linecap="round"/>
<path d="M271.7 721 L276.9 720.9 L282.2 720.8 L287.6 720.7 L293 720.7 L298.4 720.6 L303.7 720.5 L308.8 720.4 L313.7 720.2 L318.3 720 L322.5 719.8 L325 719.6 L327.3 719.4 L329.5 719.3 L331.5 719.1 L333.5 718.8 L335.5 718.6 L337.5 718.4 L339.6 718.1 L341.9 717.8 L344.3 717.4 L348.1 716.8 L352.3 716.1 L356.8 715.4 L361.5 714.5 L366.2 713.7 L370.9 712.8 L375.6 711.9 L380 711 L384.2 710.2 L388 709.4 L390.5 708.9 L392.8 708.4 L395 708 L397.1 707.5 L399.2 707.1 L401.2 706.6 L403.2 706.2 L405.2 705.7 L407.3 705.1 L409.4 704.6 L411.6 704 L413.8 703.4 L416 702.7 L418.3 702.1 L420.5 701.4 L422.7 700.7 L424.9 700 L427.1 699.2 L429.3 698.5 L431.5 697.8 L433.7 697.1 L435.8 696.3 L438 695.5 L440.2 694.7 L442.3 693.9 L444.5 693.2 L446.6 692.4 L448.6 691.7 L450.7 691 L452.6 690.3 L454.2 689.8 L455.7 689.3 L457.2 688.8 L458.7 688.4 L460.2 687.9 L461.6 687.5 L463 687.1 L464.3 686.7 L465.6 686.4 L466.9 686 L468.3 685.6 L469.7 685.3 L470.9 685 L472.2 684.6 L473.5 684.3 L475 683.8 L476.4 683.3 L478 682.7 L479.6 682.1 L481.2 681.5 L482.9 680.8 L484.7 680 L486.5 679.3 L488.3 678.5 L490.2 677.8 L492 677 L494.2 676.1 L496.5 675.1 L498.9 674.2 L501.3 673.2 L503.8 672.2 L506.2 671.2 L508.7 670.1 L511.1 669.1 L513.6 668 L516 667 L518.4 665.9 L520.9 664.9 L523.3 663.8 L525.7 662.7 L528.2 661.6 L530.6 660.5 L533 659.4 L535.4 658.3 L537.7 657.1 L540 656 L542.1 654.9 L544.2 653.7 L546.3 652.5 L548.3 651.3 L550.4 650.1 L552.4 648.9 L554.4 647.8 L556.3 646.8 L558.2 645.8 L560 645 L561.5 644.4 L562.9 644 L564.3 643.6 L565.7 643.2 L567 642.9 L568.4 642.6 L569.8 642.2 L571.2 641.8 L572.6 641.3 L574.2 640.6 L575.9 639.9 L577.6 639.1 L579.3 638.3 L581.1 637.4 L582.8 636.5 L584.5 635.6 L586.2 634.7 L587.8 633.8 L589.4 632.9 L590.8 632.1 L592.1 631.3 L593.5 630.5 L594.8 629.7 L596.1 628.9 L597.4 628.1 L598.6 627.3 L599.8 626.4 L600.9 625.5 L602 624.5 L603 623.5 L603.9 622.5 L604.8 621.4 L605.7 620.3 L606.5 619.1 L607.3 618 L608.1 616.9 L608.8 615.7 L609.6 614.6 L610.4 613.6 L611.3 612.5 L612.2 611.4 L613 610.4 L613.9 609.4 L614.7 608.3 L615.5 607.3 L616.3 606.3 L617.1 605.2 L617.9 604 L618.6 602.8 L619.4 601.6 L620.1 600.4 L620.8 599.2 L621.4 598 L622.1 596.8 L622.7 595.6 L623.4 594.4 L624 593.1 L624.6 591.9 L625.1 590.7 L625.7 589.5 L626.3 588.4 L627 587.2 L627.7 586.1 L628.4 585.1 L629.1 583.9 L629.7 582.5 L630.1 581.2 L630.4 579.8 L630.7 578.2 L630.9 576.5 L631.1 574.8 L631.3 573 L631.5 571.3 L631.7 569.6 L632 567.9 L632.3 566.4 L632.7 565 L633.1 563.7 L633.5 562.4 L633.9 561.1 L634.4 559.9 L634.8 558.6 L635.3 557.4 L635.7 556.2 L636.1 555 L636.5 553.7 L637 552.5 L637.4 551.3 L637.8 550.1 L638.2 548.8 L638.6 547.4 L639 545.9 L639.4 544.1 L639.8 542.1 L640.1 539.9 L640.5 537.7 L640.8 535.3 L641.2 532.9 L641.5 530.5 L641.8 528.1 L642.2 525.6 L642.5 523.2 L642.9 520.5 L643.2 517.7 L643.6 514.9 L643.9 512 L644.3 509.1 L644.6 506.2 L645 503.4 L645.4 500.6 L645.8 498 L646.2 495.6 L646.6 493.9 L646.9 492.3 L647.4 490.8 L647.8 489.3 L648.2 487.9 L648.6 486.5 L649 485 L649.4 483.5 L649.8 481.8 L650.1 480 L650.5 477.1 L650.9 473.9 L651.2 470.4 L651.4 466.9 L651.6 463.2 L651.9 459.4 L652.1 455.7 L652.3 452.1 L652.6 448.6 L652.9 445.3 L653.2 442.6 L653.5 440 L653.9 437.5 L654.2 435 L654.5 432.5 L654.9 430 L655.2 427.6 L655.6 425.2 L655.9 422.7 L656.2 420.2 L656.5 417.7 L656.8 415.1 L657 412.5 L657.3 410 L657.6 407.4 L657.8 404.8 L658 402.3 L658.3 399.8 L658.5 397.4 L658.7 395 L658.9 393 L659 391.1 L659.1 389.2 L659.2 387.4 L659.4 385.5 L659.5 383.7 L659.6 381.9 L659.7 380 L659.9 378 L660.1 376 L660.4 373.5 L660.7 370.9 L661 368.2 L661.4 365.5 L661.8 362.8 L662.2 360 L662.6 357.2 L662.9 354.5 L663.3 351.7 L663.7 349 L664.1 346.3 L664.4 343.7 L664.8 341 L665.2 338.4 L665.5 335.7 L665.9 333.1 L666.3 330.4 L666.6 327.7 L667 324.9 L667.3 322 L667.7 318.6 L668.1 315 L668.5 311.3 L668.9 307.6 L669.2 303.8 L669.6 300 L670 296.3 L670.3 292.7 L670.6 289.3 L670.9 286 L671.1 283.6 L671.3 281.2 L671.4 278.8 L671.6 276.6 L671.7 274.4 L671.8 272.2 L672 270.1 L672.1 268 L672.3 266 L672.5 264 L672.7 262.5 L672.9 261.1 L673 259.7 L673.2 258.4 L673.4 257.1 L673.6 255.7 L673.8 254.4 L674.1 253 L674.3 251.5 L674.5 250 L674.8 247.8 L675.1 245.5 L675.5 243 L675.8 240.5 L676.2 238 L676.6 235.3 L676.9 232.7 L677.3 230.1 L677.6 227.5 L678 225 L678.3 222.5 L678.7 220 L679 217.5 L679.4 215 L679.7 212.4 L680.1 209.9 L680.4 207.4 L680.8 204.9 L681.1 202.5 L681.5 200 L681.9 197.6 L682.3 195.3 L682.7 193 L683.1 190.7 L683.5 188.3 L683.9 186 L684.3 183.7 L684.7 181.4 L685.1 179.1 L685.5 176.8 L685.9 174.5 L686.3 172.1 L686.7 169.7 L687 167.3 L687.4 164.9 L687.8 162.6 L688.2 160.2 L688.6 157.9 L689 155.6 L689.4 153.4 L689.8 151.4 L690.2 149.5 L690.6 147.5 L691.1 145.6 L691.5 143.7 L691.9 141.9 L692.4 140 L692.8 138.3 L693.2 136.6 L693.5 135 L693.8 133.4 L694.1 131.9 L694.4 130.5 L694.6 129.2 L694.9 127.8 L695.2 126.4 L695.5 125 L695.8 123.7 L696.1 122.4 L696.4 121 L696.7 119.6 L697 118.2 L697.4 116.9 L697.7 115.5 L698.1 114.2 L698.5 113 L698.9 111.7 L699.4 110.4 L699.9 109.1 L700.4 107.9 L700.9 106.7 L701.4 105.6 L702 104.5 L702.7 103.4 L703.3 102.4 L704 101.4 L704.8 100.5 L705.5 99.5 L706.3 98.3 L707.1 97.1 L707.9 95.9 L708.8 94.9 L709.7 94.2 L711.1 93.8 L712.6 93.8 L714 94.2 L714.9 94.8 L715.8 95.6 L716.7 96.6 L717.5 97.6 L718.3 98.6 L719.3 99.6 L720.2 100.7 L721.1 101.8 L721.9 103 L722.4 104.1 L722.8 105.2 L723.1 106.5 L723.5 107.7 L723.8 109 L724.1 110.2 L724.5 111.4 L724.8 112.6 L725.1 113.8 L725.5 115 L725.8 116.2 L726.2 117.4 L726.6 118.6 L727 119.8 L727.3 121 L727.7 122.2 L728.1 123.4 L728.4 124.6 L728.7 126 L729 127.5 L729.3 129 L729.5 130.4 L729.8 131.8 L730.2 133.2 L730.5 134.6 L730.9 136 L731.3 137.6 L731.5 138.8 L731.8 140 L732 141.3 L732.3 142.7 L732.5 144.1 L732.8 145.6 L733 147.1 L733.3 148.7 L733.5 150.3 L733.8 152.4 L734.1 154.5 L734.4 156.9 L734.7 159.2 L735 161.7 L735.3 164.1 L735.6 166.6 L735.9 169 L736.2 171.3 L736.5 173.6 L736.8 175.5 L737.1 177.5 L737.4 179.3 L737.7 181.2 L738 183 L738.3 184.8 L738.6 186.6 L738.9 188.5 L739.2 190.4 L739.5 192.3 L739.8 194.4 L740.1 196.5 L740.4 198.7 L740.7 200.9 L741 203 L741.3 205.3 L741.6 207.5 L741.9 209.7 L742.2 211.9 L742.5 214.2 L742.8 216.6 L743.1 219.1 L743.4 221.7 L743.7 224.2 L744 226.8 L744.3 229.3 L744.5 231.8 L744.8 234.3 L745.1 236.7 L745.3 239.1 L745.5 241.1 L745.7 243.1 L745.9 245 L746 246.9 L746.2 248.8 L746.3 250.7 L746.5 252.5 L746.7 254.3 L746.8 256.1 L747 257.8 L747.1 259.2 L747.3 260.6 L747.4 262 L747.6 263.3 L747.7 264.6 L747.9 265.9 L748 267.3 L748.2 268.6 L748.3 270.1 L748.5 271.6 L748.7 273.7 L748.9 275.9 L749.2 278.1 L749.4 280.4 L749.7 282.8 L749.9 285.2 L750.1 287.7 L750.4 290.1 L750.6 292.6 L750.8 295 L751 297.6 L751.2 300.3 L751.3 302.9 L751.5 305.6 L751.7 308.3 L751.8 311 L752 313.8 L752.1 316.5 L752.3 319.3 L752.5 322 L752.7 324.8 L752.9 327.7 L753.2 330.6 L753.4 333.5 L753.7 336.3 L753.9 339.2 L754.2 342.1 L754.5 345 L754.7 347.9 L755 350.8 L755.3 353.7 L755.6 356.8 L755.8 359.9 L756.1 363 L756.4 366.1 L756.7 369.1 L757 372 L757.3 374.8 L757.6 377.3 L757.8 379.6 L758 381.3 L758.2 382.7 L758.3 384 L758.5 385.2 L758.6 386.5 L758.8 388.1 L759 390 L759.4 394.1 L759.7 399.1 L760.1 404.8 L760.6 411.1 L761 417.8 L761.5 424.8 L762 431.9 L762.5 438.9 L763 445.7 L763.5 452.2 L764.1 458.4 L764.6 464.7 L765.2 470.9 L765.9 477.1 L766.5 483.4 L767.1 489.6 L767.8 495.8 L768.4 502 L769.1 508.3 L769.7 514.5 L770.3 520.8 L771 527.3 L771.6 533.8 L772.2 540.4 L772.8 546.9 L773.5 553.4 L774.1 559.6 L774.7 565.6 L775.4 571.3 L776 576.7 L776.5 580.2 L776.9 583.6 L777.4 586.8 L777.9 589.9 L778.3 592.9 L778.8 595.8 L779.3 598.8 L779.7 601.7 L780.1 604.7 L780.5 607.8 L780.9 611 L781.2 614.3 L781.5 617.6 L781.7 620.9 L782 624.3 L782.2 627.6 L782.5 630.8 L782.8 634 L783.1 637 L783.5 640 L783.8 642.3 L784.2 644.6 L784.5 646.8 L784.9 649 L785.3 651.1 L785.7 653.2 L786.1 655.3 L786.5 657.4 L787 659.5 L787.5 661.6 L788 663.8 L788.6 666 L789.2 668.2 L789.9 670.4 L790.5 672.6 L791.2 674.8 L791.9 677 L792.6 679.1 L793.3 681.2 L794 683.2 L794.6 684.9 L795.2 686.6 L795.8 688.3 L796.4 690 L797 691.7 L797.6 693.3 L798.3 694.8 L799 696.3 L799.8 697.8 L800.6 699.2 L801.4 700.4 L802.3 701.6 L803.2 702.7 L804.1 703.8 L805.1 704.8 L806.1 705.9 L807 706.9 L808 707.8 L808.9 708.8 L809.8 709.7 L810.8 710.8 L811.7 711.8 L812.6 712.8 L813.5 713.8 L814.4 714.7 L815.3 715.5 L816.4 716.3 L817.6 717 L818.8 717.7 L820 718.4 L821.3 718.9 L822.7 719.4 L824.1 719.9 L825.6 720.3 L827.1 720.6 L828.7 720.8 L830.3 721 L832.1 721.1 L833.8 721.2 L835.6 721.3 L837.5 721.4 L839.3 721.4 L841.1 721.5 L842.8 721.6" fill="none" stroke="#1a1a88" stroke-width="1.8" stroke-linejoin="round" stroke-linecap="round"/>
<path d="M1168 722.8 L1175.1 722.5 L1182.6 722.2 L1190.2 721.9 L1197.9 721.6 L1205.4 721.3 L1212.8 721 L1219.8 720.7 L1226.3 720.4 L1232.3 720 L1237.5 719.7 L1239.9 719.5 L1242.2 719.3 L1244.2 719.2 L1246.1 719 L1248 718.8 L1249.7 718.6 L1251.5 718.4 L1253.2 718.2 L1255 718 L1256.9 717.8 L1258.9 717.5 L1260.9 717.3 L1262.9 717 L1264.9 716.7 L1267 716.4 L1269 716.1 L1270.9 715.8 L1272.8 715.5 L1274.5 715.2 L1276.2 714.9 L1277.8 714.6 L1279.2 714.4 L1280.6 714.2 L1281.9 713.9 L1283.2 713.7 L1284.6 713.4 L1285.9 713 L1287.3 712.5 L1288.6 712 L1289.9 711.5 L1291.2 710.9 L1292.6 710.3 L1294 709.7 L1295.6 709.1 L1297.3 708.5 L1299 708 L1300.9 707.4 L1302.9 706.9 L1304.9 706.3 L1306.9 705.7 L1309 705.1 L1311 704.5 L1313 703.9 L1315 703.3 L1316.9 702.7 L1318.9 702 L1320.9 701.3 L1322.8 700.6 L1324.8 699.9 L1326.7 699.2 L1328.7 698.5 L1330.6 697.8 L1332.5 697.2 L1334.3 696.5 L1335.9 695.9 L1337.5 695.4 L1339 694.9 L1340.5 694.4 L1342 693.9 L1343.5 693.3 L1345.1 692.8 L1346.6 692.2 L1348.3 691.6 L1350 691 L1352.4 690.1 L1354.8 689.2 L1357.4 688.2 L1360 687.1 L1362.7 686.1 L1365.4 685 L1368.1 683.9 L1370.8 682.7 L1373.4 681.6 L1376 680.4 L1378.5 679.2 L1380.9 678 L1383.3 676.8 L1385.8 675.5 L1388.2 674.2 L1390.6 672.9 L1392.9 671.6 L1395.3 670.3 L1397.7 669.1 L1400 667.8 L1402.2 666.6 L1404.4 665.4 L1406.5 664.3 L1408.6 663.1 L1410.7 662 L1412.8 660.8 L1415 659.6 L1417.3 658.4 L1419.6 657.2 L1422 655.9 L1425.2 654.2 L1428.6 652.4 L1432.2 650.6 L1435.8 648.8 L1439.5 646.9 L1443.2 645 L1447 643.1 L1450.7 641.3 L1454.4 639.4 L1458 637.7 L1461.5 636 L1465.2 634.4 L1468.9 632.7 L1472.6 631.1 L1476.3 629.4 L1479.9 627.9 L1483.3 626.3 L1486.5 624.9 L1489.4 623.5 L1492 622.2 L1493.5 621.4 L1494.9 620.5 L1496.2 619.7 L1497.3 619 L1498.4 618.3 L1499.5 617.6 L1500.7 616.9 L1502 616.3 L1503.3 615.8 L1504.6 615.3 L1505.9 615 L1507.2 614.6 L1508.6 614.2 L1510 613.9 L1511.3 613.5 L1512.7 613.1 L1514 612.7 L1515.4 612.2 L1516.7 611.7 L1518.1 611.2 L1519.4 610.7 L1520.8 610.2 L1522.1 609.7 L1523.5 609.1 L1524.7 608.5 L1526 607.9 L1527.3 607.2 L1528.7 606.5 L1530 605.8 L1531.3 605.1 L1532.5 604.3 L1533.7 603.5 L1534.7 602.7 L1535.5 601.9 L1536.3 600.8 L1536.9 599.6 L1537.4 598.4 L1537.9 597.1 L1538.4 595.9 L1538.9 594.6 L1539.5 593.2 L1540 591.8 L1540.5 590.4 L1541 588.9 L1541.5 587.5 L1541.9 586.1 L1542.3 584.8 L1542.7 583.5 L1543 582.1 L1543.3 580.7 L1543.6 579.3 L1543.9 577.9 L1544.1 576.5 L1544.3 575 L1544.4 573.5 L1544.6 572 L1544.7 570.5 L1544.8 569 L1544.9 567.5 L1545.1 566 L1545.3 564.7 L1545.5 563.3 L1545.7 562 L1545.9 560.7 L1546.1 559.3 L1546.4 558 L1546.6 556.7 L1546.7 555.3 L1546.9 554 L1547 552.7 L1547.1 551.3 L1547.2 550 L1547.2 548.7 L1547.3 547.3 L1547.3 546 L1547.3 544.7 L1547.4 543.3 L1547.5 542 L1547.6 540.7 L1547.7 539.5 L1547.8 538.4 L1548 537.3 L1548.1 536.1 L1548.2 534.8 L1548.4 533.4 L1548.5 531.8 L1548.7 530 L1549.2 524.4 L1549.7 517.6 L1550.3 509.6 L1550.9 500.7 L1551.6 491 L1552.3 481 L1553 470.6 L1553.7 460.2 L1554.4 449.9 L1555.1 440 L1555.8 428.7 L1556.6 417.1 L1557.3 405.3 L1558 393.2 L1558.8 381.1 L1559.5 368.8 L1560.2 356.5 L1561 344.3 L1561.7 332.1 L1562.5 320 L1563.3 307.6 L1564.2 294.4 L1565 280.9 L1565.9 267.2 L1566.8 253.8 L1567.7 240.9 L1568.5 228.7 L1569.3 217.7 L1570 208 L1570.6 200 L1570.8 197.2 L1571 194.8 L1571.2 192.5 L1571.4 190.5 L1571.6 188.6 L1571.8 186.8 L1572 185 L1572.2 183.2 L1572.3 181.3 L1572.5 179.2 L1572.7 176.9 L1572.8 174.6 L1573 172.2 L1573.1 169.8 L1573.3 167.4 L1573.4 165 L1573.5 162.7 L1573.7 160.3 L1573.8 158 L1574 155.8 L1574.1 153.8 L1574.3 151.8 L1574.4 149.8 L1574.5 147.9 L1574.7 145.9 L1574.8 144 L1575 142.2 L1575.2 140.4 L1575.4 138.7 L1575.6 137.1 L1575.9 135.6 L1576.2 134.2 L1576.5 132.9 L1576.8 131.6 L1577.1 130.4 L1577.5 129.1 L1577.9 127.7 L1578.2 126.4 L1578.6 125 L1578.9 123.5 L1579.3 122 L1579.7 120.6 L1580.1 119.1 L1580.6 117.7 L1581.1 116.4 L1581.8 115.2 L1582.5 114 L1583.3 112.9 L1584.1 111.7 L1585 110.7 L1586 109.7 L1587.1 108.8 L1588.3 108 L1589.6 107.4 L1591.5 106.8 L1593.6 106.5 L1596 106.4 L1598.6 106.4 L1601.3 106.6 L1604.1 106.9 L1606.9 107.1 L1609.7 107.4 L1612.4 107.6 L1615 107.8 L1617.5 107.9 L1620.1 108 L1622.7 108.2 L1625.3 108.4 L1627.9 108.5 L1630.5 108.7 L1633 108.9 L1635.4 109 L1637.8 109.2 L1640 109.3 L1641.7 109.4 L1643.3 109.4 L1644.9 109.4 L1646.4 109.5 L1647.9 109.5 L1649.4 109.5 L1650.8 109.5 L1652.3 109.6 L1653.7 109.7 L1655.2 109.8 L1656.6 109.9 L1658 110 L1659.5 110.1 L1660.9 110.3 L1662.3 110.4 L1663.7 110.6 L1665 110.8 L1666.3 111.1 L1667.5 111.4 L1668.6 111.8 L1669.9 112.4 L1671.1 113.1 L1672.3 113.9 L1673.3 114.8 L1674.3 115.8 L1675.3 116.8 L1676.1 117.8 L1676.9 118.8 L1677.6 119.9 L1678.2 121 L1678.9 122.2 L1679.6 123.5 L1680.3 124.7 L1681 126 L1681.8 127.3 L1682.5 128.6 L1683.4 129.9 L1684.2 131.2 L1685 132.6 L1685.8 134.1 L1686.6 135.5 L1687.4 137.1 L1688.1 138.6 L1688.7 140.3 L1689.4 142.5 L1690.1 144.8 L1690.7 147.3 L1691.2 149.8 L1691.7 152.4 L1692.1 155.1 L1692.5 157.7 L1693 160.3 L1693.4 163 L1693.8 165.5 L1694.2 168 L1694.6 170.6 L1695 173.2 L1695.4 175.8 L1695.7 178.4 L1696.1 181 L1696.4 183.5 L1696.7 185.8 L1697 188 L1697.3 190 L1697.5 191.6 L1697.8 192.8 L1698 194 L1698.2 195.1 L1698.4 196.4 L1698.6 198 L1698.8 200 L1699.5 207.4 L1700.2 217.6 L1700.9 230.1 L1701.8 244.3 L1702.6 259.9 L1703.5 276.2 L1704.4 292.9 L1705.3 309.4 L1706.3 325.3 L1707.2 340 L1708.2 354.2 L1709.2 368.6 L1710.2 383.2 L1711.3 397.9 L1712.4 412.4 L1713.4 426.8 L1714.5 440.9 L1715.5 454.5 L1716.4 467.6 L1717.3 480 L1717.9 489.1 L1718.5 498 L1719.1 506.8 L1719.7 515.4 L1720.2 523.7 L1720.7 531.8 L1721.2 539.5 L1721.7 546.8 L1722.2 553.6 L1722.6 560 L1722.8 563.6 L1723.1 567 L1723.3 570.2 L1723.5 573.3 L1723.7 576.2 L1723.8 579.1 L1724 581.9 L1724.2 584.7 L1724.5 587.6 L1724.7 590.6 L1725 593.7 L1725.2 596.7 L1725.5 599.8 L1725.8 602.8 L1726.1 605.9 L1726.4 609 L1726.8 612 L1727.1 615.1 L1727.4 618.1 L1727.7 621.2 L1728 624.3 L1728.3 627.3 L1728.6 630.4 L1728.9 633.5 L1729.2 636.6 L1729.5 639.7 L1729.8 642.7 L1730.1 645.7 L1730.4 648.7 L1730.8 651.7 L1731.1 654.4 L1731.5 657.2 L1731.9 659.9 L1732.2 662.6 L1732.6 665.3 L1733 668 L1733.4 670.6 L1733.9 673.2 L1734.4 675.7 L1734.9 678.2 L1735.4 680.4 L1735.9 682.5 L1736.5 684.7 L1737 686.8 L1737.6 688.9 L1738.2 690.9 L1738.9 692.9 L1739.5 694.8 L1740.2 696.8 L1741 698.6 L1741.7 700.2 L1742.4 701.8 L1743.1 703.4 L1743.9 705 L1744.7 706.5 L1745.5 708 L1746.3 709.4 L1747.2 710.6 L1748.1 711.8 L1749 712.9 L1750 713.9 L1751.1 714.8 L1752.2 715.6 L1753.3 716.3 L1754.5 716.9 L1755.7 717.5 L1757 718 L1758.3 718.4 L1759.6 718.8 L1760.9 719 L1762.3 719.2 L1763.7 719.4 L1765.1 719.6 L1766.5 719.8 L1767.9 720" fill="none" stroke="#1c1c1c" stroke-width="1.8" stroke-linejoin="round" stroke-linecap="round"/>
<path d="M1168 722.6 L1171.2 722.6 L1174.5 722.5 L1177.9 722.5 L1181.2 722.5 L1184.6 722.5 L1187.9 722.4 L1191.1 722.4 L1194.2 722.3 L1197.2 722.2 L1200 722 L1202 721.8 L1203.9 721.6 L1205.8 721.4 L1207.6 721.2 L1209.3 721 L1211.1 720.7 L1212.8 720.5 L1214.5 720.2 L1216.3 720 L1218.1 719.7 L1220 719.4 L1221.9 719.2 L1223.9 718.9 L1225.8 718.6 L1227.8 718.3 L1229.7 718 L1231.7 717.7 L1233.6 717.4 L1235.6 717.1 L1237.5 716.8 L1239.4 716.5 L1241.4 716.2 L1243.3 715.9 L1245.3 715.6 L1247.2 715.4 L1249.1 715.1 L1251.1 714.8 L1253 714.5 L1255 714.2 L1256.9 713.9 L1258.8 713.6 L1260.8 713.3 L1262.7 713.1 L1264.6 712.8 L1266.6 712.6 L1268.5 712.3 L1270.4 712 L1272.3 711.7 L1274.3 711.4 L1276.2 711 L1278.1 710.6 L1280.1 710.2 L1282 709.7 L1284 709.2 L1285.9 708.7 L1287.8 708.2 L1289.8 707.7 L1291.7 707.2 L1293.7 706.7 L1295.6 706.2 L1297.5 705.7 L1299.5 705.2 L1301.4 704.8 L1303.4 704.3 L1305.3 703.8 L1307.3 703.3 L1309.2 702.8 L1311.1 702.3 L1313.1 701.8 L1315 701.3 L1316.9 700.7 L1318.9 700.2 L1320.9 699.6 L1322.8 698.9 L1324.8 698.3 L1326.7 697.7 L1328.6 697.1 L1330.6 696.5 L1332.4 696 L1334.3 695.5 L1335.9 695.1 L1337.5 694.8 L1339 694.5 L1340.5 694.3 L1342 694 L1343.5 693.7 L1345.1 693.5 L1346.7 693.1 L1348.3 692.8 L1350 692.3 L1352.4 691.6 L1354.8 690.8 L1357.4 690 L1360 689.1 L1362.7 688.1 L1365.4 687.1 L1368.1 686 L1370.8 685 L1373.4 683.9 L1376 682.9 L1378.5 681.9 L1380.9 680.8 L1383.3 679.7 L1385.7 678.6 L1388.1 677.5 L1390.5 676.4 L1392.9 675.3 L1395.3 674.2 L1397.6 673.1 L1400 672 L1402.2 671 L1404.4 670.1 L1406.5 669.1 L1408.6 668.2 L1410.7 667.3 L1412.9 666.3 L1415 665.4 L1417.3 664.4 L1419.6 663.3 L1422 662.2 L1425.3 660.7 L1428.7 659.1 L1432.2 657.4 L1435.8 655.7 L1439.5 653.9 L1443.3 652.1 L1447 650.3 L1450.7 648.5 L1454.4 646.7 L1458 644.9 L1461.5 643.1 L1465 641.4 L1468.5 639.6 L1472.1 637.7 L1475.6 635.9 L1479 634.1 L1482.4 632.3 L1485.7 630.5 L1488.9 628.8 L1492 627.1 L1494.4 625.7 L1496.8 624.3 L1499.2 622.9 L1501.5 621.5 L1503.7 620.1 L1505.9 618.8 L1508 617.5 L1510.1 616.3 L1512.1 615.1 L1514 614 L1515.5 613.2 L1516.9 612.5 L1518.3 611.8 L1519.6 611.1 L1520.9 610.5 L1522.1 609.9 L1523.4 609.3 L1524.7 608.6 L1526 607.9 L1527.2 607.2 L1528.5 606.5 L1529.8 605.7 L1531 604.9 L1532.3 604.1 L1533.5 603.3 L1534.7 602.6 L1535.9 601.9 L1536.9 601.3 L1537.9 600.7 L1539.3 600.1 L1540.5 599.6 L1541.7 599.1 L1542.7 598.3 L1543.6 597.4 L1544.3 596.3 L1545 595 L1545.7 593.7 L1546.3 592.3 L1546.8 591.2 L1547.2 590 L1547.6 588.7 L1548 587.3 L1548.4 586 L1548.8 584.6 L1549.2 583.1 L1549.5 581.7 L1549.9 580.3 L1550.2 578.9 L1550.6 577.5 L1550.9 576.1 L1551.2 574.6 L1551.5 573.2 L1551.8 571.7 L1552.1 570.2 L1552.3 568.8 L1552.6 567.4 L1552.9 566 L1553.2 564.6 L1553.5 563.3 L1553.7 561.9 L1554 560.6 L1554.3 559.3 L1554.6 558 L1554.8 556.7 L1555.1 555.3 L1555.3 554 L1555.5 552.7 L1555.8 551.3 L1556 550 L1556.2 548.7 L1556.4 547.3 L1556.6 546 L1556.8 544.7 L1556.9 543.3 L1557.1 542 L1557.3 540.7 L1557.4 539.6 L1557.5 538.4 L1557.6 537.3 L1557.8 536.1 L1557.9 534.8 L1558 533.4 L1558.1 531.8 L1558.3 530 L1558.7 524.4 L1559.2 517.6 L1559.8 509.6 L1560.3 500.7 L1560.9 491 L1561.6 481 L1562.2 470.6 L1562.8 460.2 L1563.4 449.9 L1564 440 L1564.7 428.7 L1565.3 417.1 L1565.9 405.3 L1566.6 393.2 L1567.2 381.1 L1567.9 368.8 L1568.5 356.5 L1569.2 344.3 L1569.8 332.1 L1570.5 320 L1571.2 307.6 L1571.9 294.7 L1572.6 281.4 L1573.3 268 L1574.1 254.8 L1574.8 242.1 L1575.5 229.9 L1576.2 218.7 L1576.9 208.7 L1577.5 200 L1577.8 196.3 L1578.1 193 L1578.3 189.9 L1578.6 187 L1578.9 184.3 L1579.2 181.7 L1579.4 179.1 L1579.7 176.6 L1580 174.1 L1580.3 171.4 L1580.6 168.9 L1580.8 166.4 L1581.1 163.9 L1581.4 161.4 L1581.6 159 L1581.9 156.6 L1582.2 154.3 L1582.6 152.1 L1583 150 L1583.4 148 L1583.8 146.4 L1584.2 144.9 L1584.6 143.5 L1585.1 142.1 L1585.6 140.8 L1586.1 139.5 L1586.7 138.3 L1587.3 137.1 L1588 135.8 L1588.8 134.6 L1589.7 133.4 L1590.5 132.3 L1591.5 131.2 L1592.5 130.2 L1593.5 129.3 L1594.6 128.5 L1595.7 127.7 L1596.9 127 L1598.1 126.3 L1599.4 125.7 L1600.7 125.1 L1602.1 124.6 L1603.4 124.1 L1604.7 123.7 L1606 123.4 L1607.4 123.1 L1608.8 122.7 L1610.3 122.4 L1611.7 122.1 L1613.2 121.8 L1614.6 121.5 L1616 121.2 L1617.3 120.9 L1618.7 120.5 L1620.1 120.2 L1621.5 119.9 L1622.9 119.6 L1624.3 119.2 L1625.8 118.9 L1627.2 118.6 L1628.6 118.3 L1630.1 118 L1631.5 117.7 L1633 117.3 L1634.5 117 L1636 116.7 L1637.5 116.4 L1639 116.1 L1640.5 115.8 L1641.9 115.5 L1643.4 115.2 L1644.8 114.9 L1646.1 114.6 L1647.4 114.4 L1648.8 114.1 L1650.1 113.8 L1651.4 113.6 L1652.7 113.3 L1654.1 113.1 L1655.4 112.9 L1656.8 112.7 L1658.3 112.5 L1659.8 112.4 L1661.3 112.3 L1662.9 112.3 L1664.4 112.2 L1665.9 112.2 L1667.5 112.1 L1669 112 L1670.5 111.9 L1672 111.8 L1673.4 111.6 L1674.7 111.4 L1676 111.2 L1677.3 111 L1678.6 110.7 L1679.9 110.5 L1681.2 110.2 L1682.6 110 L1684 109.9 L1685.4 109.8 L1687.2 109.8 L1689.1 109.8 L1691 109.9 L1693 110 L1695 110.1 L1697 110.3 L1699.1 110.5 L1701.2 110.7 L1703.3 110.9 L1705.5 111 L1708.2 111.2 L1711.1 111.3 L1714.1 111.5 L1717.2 111.6 L1720.3 111.8 L1723.4 112 L1726.4 112.1 L1729.2 112.3 L1731.9 112.6 L1734.3 112.8 L1735.9 113 L1737.4 113.1 L1738.8 113.2 L1740.2 113.3 L1741.5 113.5 L1742.8 113.7 L1744 113.9 L1745.3 114.3 L1746.5 114.8 L1747.8 115.4 L1749 116.2 L1750.3 117 L1751.5 117.9 L1752.7 118.9 L1753.8 119.9 L1754.9 120.9 L1755.8 122 L1756.7 123 L1757.5 124.1 L1758.2 125.1 L1758.8 126.2 L1759.4 127.3 L1759.9 128.5 L1760.3 129.8 L1760.8 131.1 L1761.2 132.5 L1761.6 133.9 L1761.9 135.5 L1762.2 137.1 L1762.4 138.8 L1762.7 140.5 L1762.9 142.2 L1763.2 143.9 L1763.5 145.7 L1763.8 147.4 L1764.2 149.3 L1764.6 151.3 L1765 153.4 L1765.4 155.4 L1765.9 157.5 L1766.3 159.5 L1766.7 161.6 L1767.1 163.7 L1767.5 165.7 L1767.9 167.8 L1768.2 169.8 L1768.6 171.9 L1768.9 173.9 L1769.2 176 L1769.5 178 L1769.8 180 L1770.1 182.1 L1770.4 184.1 L1770.6 186.2 L1770.9 188.2 L1771.1 190.2 L1771.4 192.2 L1771.6 194.2 L1771.8 196.1 L1772 198.1 L1772.2 200.1 L1772.4 202.2 L1772.6 204.2 L1772.8 206.4 L1773 208.6 L1773.2 211.4 L1773.4 214.2 L1773.6 217 L1773.8 219.8 L1773.9 222.8 L1774.1 225.8 L1774.3 229.1 L1774.5 232.5 L1774.7 236.1 L1775 240 L1775.5 247.7 L1776.2 256.2 L1776.9 265.4 L1777.7 275.3 L1778.5 285.7 L1779.3 296.3 L1780.1 307.3 L1780.9 318.3 L1781.7 329.2 L1782.5 340 L1783.3 352.4 L1784.1 365.3 L1784.9 378.5 L1785.7 391.9 L1786.5 405.4 L1787.3 418.9 L1788.1 432.2 L1788.9 445.3 L1789.7 457.9 L1790.5 470 L1791.2 479.9 L1792 489.8 L1792.7 499.7 L1793.5 509.5 L1794.3 519 L1795 528.2 L1795.7 537 L1796.4 545.3 L1797 553 L1797.5 560 L1797.8 563.7 L1798 567.2 L1798.2 570.4 L1798.4 573.4 L1798.5 576.3 L1798.7 579.1 L1798.9 581.9 L1799.1 584.7 L1799.3 587.6 L1799.5 590.6 L1799.8 593.7 L1800 596.7 L1800.3 599.8 L1800.6 602.8 L1800.9 605.9 L1801.2 609 L1801.6 612 L1801.9 615.1 L1802.2 618.1 L1802.6 621.2 L1803 624.3 L1803.3 627.3 L1803.7 630.4 L1804.1 633.5 L1804.5 636.6 L1804.8 639.7 L1805.3 642.7 L1805.7 645.7 L1806.1 648.7 L1806.6 651.7 L1807.1 654.4 L1807.5 657.1 L1808 659.8 L1808.5 662.5 L1809 665.2 L1809.5 667.8 L1810 670.4 L1810.6 673 L1811.1 675.6 L1811.7 678.2 L1812.2 680.7 L1812.8 683.3 L1813.3 685.9 L1813.9 688.5 L1814.4 691 L1815 693.6 L1815.7 696 L1816.3 698.4 L1817.1 700.6 L1817.9 702.7 L1818.6 704.3 L1819.3 705.9 L1820 707.5 L1820.8 709.1 L1821.5 710.5 L1822.4 711.9 L1823.2 713.2 L1824.1 714.3 L1825 715.3 L1826 716 L1827.3 716.6 L1828.6 716.8 L1830.1 716.8 L1831.5 716.8 L1832.9 716.8 L1834.2 717 L1835.5 717.5 L1836.7 718.1 L1837.9 718.7 L1839.1 719.4 L1840.3 720" fill="none" stroke="#ff2a2a" stroke-width="1.8" stroke-linejoin="round" stroke-linecap="round"/>
<path d="M1168 723.5 L1170.2 723.6 L1172.6 723.8 L1175.1 724 L1177.6 724.3 L1180 724.6 L1182.3 724.7 L1184.5 724.7 L1186.3 724.6 L1187.9 724.2 L1189 723.5 L1189.6 722.5 L1189.6 721.2 L1189.4 719.6 L1189.1 718 L1188.9 716.5 L1189 715 L1189.5 713.9 L1190.4 713.1 L1191.7 712.4 L1193.2 711.9 L1195 711.6 L1196.9 711.2 L1198.9 711 L1200.9 710.8 L1202.8 710.6 L1204.7 710.3 L1206.5 710 L1208.1 709.7 L1209.6 709.4 L1211.2 709.1 L1212.7 708.8 L1214.3 708.5 L1215.8 708.2 L1217.4 707.9 L1218.9 707.6 L1220.5 707.4 L1222 707.1 L1223.5 706.8 L1225.1 706.6 L1226.6 706.4 L1228.1 706.2 L1229.6 706 L1231.1 705.8 L1232.7 705.5 L1234.2 705.3 L1235.8 705 L1237.5 704.7 L1239.6 704.3 L1241.8 703.8 L1244 703.3 L1246.3 702.8 L1248.6 702.2 L1250.9 701.6 L1253.2 701.1 L1255.5 700.5 L1257.7 699.9 L1259.8 699.4 L1261.5 699 L1263.2 698.5 L1264.9 698.1 L1266.5 697.7 L1268.1 697.3 L1269.7 696.8 L1271.3 696.4 L1272.9 696 L1274.5 695.5 L1276.2 695 L1278.1 694.4 L1280 693.9 L1281.9 693.3 L1283.8 692.6 L1285.8 692 L1287.7 691.4 L1289.7 690.7 L1291.6 690 L1293.6 689.4 L1295.6 688.7 L1297.7 688 L1299.8 687.2 L1301.9 686.5 L1304.1 685.7 L1306.2 685 L1308.4 684.2 L1310.5 683.4 L1312.7 682.6 L1314.8 681.8 L1317 681 L1319.2 680.2 L1321.6 679.3 L1323.9 678.4 L1326.2 677.5 L1328.6 676.6 L1330.9 675.7 L1333.1 674.8 L1335.3 673.9 L1337.3 673.1 L1339.2 672.3 L1340.7 671.7 L1342.1 671.1 L1343.3 670.5 L1344.6 670 L1345.8 669.4 L1347.1 668.8 L1348.5 668.2 L1350 667.5 L1352.2 666.5 L1354.5 665.4 L1357 664.3 L1359.7 663 L1362.4 661.8 L1365.2 660.5 L1367.9 659.1 L1370.7 657.8 L1373.4 656.5 L1376 655.2 L1378.5 654 L1380.9 652.7 L1383.3 651.4 L1385.7 650.2 L1388.1 648.9 L1390.5 647.6 L1392.9 646.4 L1395.3 645.1 L1397.6 643.8 L1400 642.6 L1402.2 641.4 L1404.4 640.3 L1406.5 639.2 L1408.6 638.2 L1410.7 637.1 L1412.9 636 L1415.1 634.8 L1417.3 633.7 L1419.6 632.4 L1422 631.1 L1425.3 629.3 L1428.7 627.3 L1432.2 625.2 L1435.8 623.1 L1439.5 620.9 L1443.3 618.6 L1447 616.4 L1450.7 614.1 L1454.4 611.9 L1458 609.8 L1461.5 607.7 L1465.1 605.6 L1468.8 603.5 L1472.4 601.3 L1476 599.2 L1479.6 597.2 L1483 595.2 L1486.2 593.2 L1489.2 591.5 L1492 589.8 L1493.6 588.8 L1495.1 587.9 L1496.5 587 L1497.8 586.2 L1499.1 585.4 L1500.4 584.6 L1501.6 583.8 L1502.9 583 L1504.2 582.3 L1505.6 581.5 L1507.1 580.7 L1508.6 580 L1510.2 579.3 L1511.7 578.6 L1513.3 577.9 L1514.9 577.2 L1516.5 576.5 L1518.1 575.8 L1519.6 575.1 L1521.2 574.3 L1522.8 573.5 L1524.4 572.7 L1526 571.9 L1527.6 571.1 L1529.2 570.2 L1530.8 569.4 L1532.4 568.6 L1533.9 567.7 L1535.3 566.9 L1536.7 566 L1538.1 565.1 L1539.5 564.2 L1540.8 563.3 L1542.1 562.4 L1543.4 561.5 L1544.5 560.6 L1545.5 559.7 L1546.3 558.8 L1547.2 557.6 L1547.8 556.5 L1548.3 555.3 L1548.7 554 L1549 552.8 L1549.3 551.4 L1549.4 550 L1549.6 548.5 L1549.7 547.1 L1549.9 545.6 L1550.1 544.2 L1550.2 542.8 L1550.4 541.4 L1550.6 540 L1550.7 538.6 L1550.9 537.3 L1551.1 536 L1551.3 534.8 L1551.5 533.8 L1551.8 532.8 L1552 531.6 L1552.3 530 L1552.9 525.4 L1553.6 519 L1554.4 511.2 L1555.3 502.3 L1556.2 492.5 L1557.1 482 L1558 471.3 L1558.9 460.5 L1559.8 450 L1560.5 440 L1561.3 428.7 L1562 417.1 L1562.6 405.3 L1563.3 393.3 L1563.9 381.1 L1564.4 368.8 L1565 356.5 L1565.6 344.3 L1566.2 332.1 L1566.8 320 L1567.4 307.7 L1568 294.9 L1568.6 281.8 L1569.2 268.7 L1569.8 255.6 L1570.4 243 L1571 230.9 L1571.6 219.5 L1572.3 209.2 L1573 200 L1573.4 195.5 L1573.8 191.3 L1574.3 187.4 L1574.7 183.8 L1575.2 180.3 L1575.6 176.9 L1576.1 173.6 L1576.5 170.4 L1576.8 167 L1577.2 163.6 L1577.5 160.3 L1577.8 157 L1578 153.7 L1578.3 150.4 L1578.5 147.2 L1578.8 144 L1579 140.9 L1579.2 137.9 L1579.3 135.1 L1579.5 132.4 L1579.6 130.6 L1579.7 128.9 L1579.7 127.3 L1579.8 125.7 L1579.8 124.2 L1579.9 122.7 L1579.9 121.2 L1580 119.7 L1580.1 118.3 L1580.3 116.8 L1580.5 115.3 L1580.7 113.9 L1580.9 112.5 L1581.2 111 L1581.5 109.6 L1581.7 108.3 L1582 106.9 L1582.3 105.6 L1582.6 104.3 L1582.9 102.9 L1583.1 101.5 L1583.3 100.2 L1583.6 98.9 L1583.9 97.6 L1584.4 96.3 L1585 95 L1585.6 93.9 L1586.4 92.8 L1587.2 91.6 L1588.1 90.5 L1589 89.4 L1590 88.3 L1591.1 87.3 L1592.1 86.4 L1593.2 85.5 L1594.3 84.8 L1595.6 84.1 L1596.9 83.6 L1598.2 83.2 L1599.6 82.8 L1601.1 82.5 L1602.5 82.3 L1603.9 82 L1605.2 81.7 L1606.5 81.4 L1607.8 81.1 L1609.1 80.8 L1610.4 80.5 L1611.7 80.2 L1613.1 80 L1614.6 79.7 L1616.1 79.5 L1617.7 79.2 L1619.3 78.9 L1621 78.7 L1622.8 78.5 L1624.6 78.2 L1626.4 78 L1628.2 77.8 L1629.9 77.6 L1631.7 77.5 L1633.5 77.4 L1635.2 77.3 L1637 77.2 L1638.7 77.1 L1640.5 77.1 L1642.2 77.1 L1644.1 77 L1646 77 L1647.9 77 L1650 77 L1653 77 L1656.3 77 L1659.7 77 L1663.2 77 L1666.9 77 L1670.5 77 L1674 77.1 L1677.5 77.2 L1680.8 77.4 L1683.8 77.6 L1685.9 77.8 L1687.9 78 L1689.8 78.2 L1691.7 78.4 L1693.5 78.7 L1695.3 79 L1697.1 79.3 L1699 79.6 L1701 79.9 L1703 80.3 L1705.6 80.8 L1708.3 81.4 L1711.1 81.9 L1713.9 82.6 L1716.8 83.2 L1719.7 83.9 L1722.7 84.7 L1725.7 85.4 L1728.7 86.1 L1731.8 86.9 L1735.4 87.8 L1739.2 88.8 L1743 89.9 L1746.9 90.9 L1750.8 92 L1754.8 93.1 L1758.7 94.2 L1762.6 95.2 L1766.4 96.2 L1770.1 97.2 L1773.4 98 L1776.7 98.8 L1780.1 99.6 L1783.4 100.3 L1786.6 101 L1789.8 101.8 L1792.9 102.5 L1795.9 103.2 L1798.8 103.9 L1801.5 104.6 L1803.4 105.1 L1805.2 105.5 L1807 106 L1808.7 106.4 L1810.3 106.8 L1811.9 107.3 L1813.5 107.8 L1815 108.3 L1816.4 109 L1817.8 109.7 L1819 110.4 L1820.2 111.2 L1821.3 112.1 L1822.4 113 L1823.4 113.9 L1824.4 114.9 L1825.3 115.9 L1826.3 116.9 L1827.2 117.9 L1828 118.9 L1828.9 120.1 L1829.8 121.3 L1830.6 122.5 L1831.4 123.7 L1832.1 125 L1832.8 126.3 L1833.5 127.7 L1834.1 129.1 L1834.6 130.4 L1835.1 131.7 L1835.6 133.1 L1836 134.5 L1836.4 135.9 L1836.7 137.4 L1837.1 138.9 L1837.5 140.4 L1837.8 141.9 L1838.2 143.4 L1838.6 145.1 L1839.1 146.9 L1839.5 148.7 L1839.9 150.5 L1840.4 152.4 L1840.8 154.3 L1841.2 156.1 L1841.6 158 L1841.9 159.9 L1842.3 161.7 L1842.6 163.5 L1843 165.3 L1843.3 167.1 L1843.6 169 L1843.9 170.8 L1844.2 172.6 L1844.5 174.4 L1844.8 176.3 L1845 178.1 L1845.3 180 L1845.6 182 L1845.8 184 L1846 186 L1846.2 188 L1846.4 190 L1846.6 192 L1846.8 194.1 L1847 196.2 L1847.2 198.3 L1847.4 200.4 L1847.6 202.7 L1847.8 204.9 L1848 207 L1848.2 209.2 L1848.3 211.4 L1848.5 213.7 L1848.7 216.2 L1848.9 218.8 L1849.1 221.7 L1849.4 224.9 L1850 232.9 L1850.8 242.4 L1851.7 253 L1852.6 264.5 L1853.5 276.7 L1854.5 289.4 L1855.5 302.3 L1856.4 315.2 L1857.3 327.8 L1858.1 340 L1858.8 352.8 L1859.5 365.9 L1860.2 379.2 L1860.8 392.6 L1861.3 406 L1861.9 419.3 L1862.5 432.5 L1863.1 445.4 L1863.7 457.9 L1864.4 470 L1865 479.9 L1865.7 489.8 L1866.3 499.7 L1867 509.5 L1867.7 519 L1868.4 528.2 L1869 537 L1869.7 545.3 L1870.3 553 L1870.9 560 L1871.2 563.7 L1871.5 567.2 L1871.8 570.4 L1872.1 573.4 L1872.4 576.3 L1872.7 579.1 L1873 581.9 L1873.3 584.7 L1873.6 587.6 L1873.9 590.6 L1874.2 593.7 L1874.5 596.7 L1874.8 599.8 L1875.1 602.8 L1875.4 605.9 L1875.7 609 L1876 612 L1876.3 615.1 L1876.6 618.1 L1877 621.2 L1877.4 624.3 L1877.7 627.3 L1878.1 630.4 L1878.5 633.5 L1878.9 636.6 L1879.3 639.7 L1879.7 642.7 L1880.2 645.7 L1880.6 648.7 L1881.1 651.7 L1881.6 654.4 L1882 657.1 L1882.5 659.8 L1883 662.5 L1883.5 665.1 L1884 667.8 L1884.5 670.4 L1885.1 673 L1885.6 675.6 L1886.2 678.2 L1886.7 680.7 L1887.3 683.3 L1887.8 685.9 L1888.3 688.5 L1888.8 691.1 L1889.4 693.6 L1890 696 L1890.7 698.4 L1891.4 700.6 L1892.3 702.7 L1893 704.3 L1893.8 705.9 L1894.7 707.5 L1895.5 709 L1896.5 710.5 L1897.4 711.8 L1898.4 713.1 L1899.4 714.2 L1900.4 715.2 L1901.4 716 L1902.7 716.7 L1904.1 717.1 L1905.5 717.4 L1906.9 717.5 L1908.3 717.7 L1909.6 718 L1910.9 718.4 L1912.1 718.8 L1913.3 719.2 L1914.5 719.6 L1915.7 720" fill="none" stroke="#2f9898" stroke-width="1.8" stroke-linejoin="round" stroke-linecap="round"/>
<path d="M1189 721.7 L1218 721.7" fill="none" stroke="#2f9898" stroke-width="1.8" stroke-linejoin="round" stroke-linecap="round"/>
<path d="M1168 719.7 L1170.1 719.7 L1172.4 719.9 L1174.7 720 L1177.1 720.2 L1179.5 720.3 L1181.7 720.4 L1183.7 720.5 L1185.5 720.4 L1186.9 720.1 L1188 719.7 L1188.6 718.8 L1188.8 717.7 L1189.5 716.8 L1191.4 716.1 L1194.3 715.7 L1198 715.4 L1202.3 715.3 L1207 715.2 L1211.8 715.2 L1216.6 715.3 L1220.9 715.2 L1224.8 715.1 L1227.8 714.9 L1229.5 714.7 L1231 714.4 L1232.2 714.2 L1233.5 713.9 L1234.7 713.7 L1236 713.3 L1237.5 713 L1239.2 712.6 L1241 712.2 L1242.8 711.7 L1244.8 711.2 L1246.8 710.7 L1248.8 710.1 L1250.9 709.6 L1252.9 709.1 L1254.9 708.6 L1256.9 708.1 L1258.8 707.7 L1260.8 707.3 L1262.7 706.9 L1264.6 706.5 L1266.5 706.1 L1268.5 705.8 L1270.4 705.4 L1272.3 705 L1274.3 704.6 L1276.2 704.2 L1278.1 703.8 L1280.1 703.3 L1282 702.9 L1284 702.4 L1285.9 701.9 L1287.9 701.4 L1289.8 700.9 L1291.7 700.4 L1293.7 699.9 L1295.6 699.4 L1297.5 698.9 L1299.5 698.3 L1301.4 697.8 L1303.4 697.2 L1305.3 696.6 L1307.3 696 L1309.2 695.4 L1311.1 694.8 L1313.1 694.2 L1315 693.6 L1316.9 693 L1318.9 692.3 L1320.9 691.6 L1322.8 691 L1324.8 690.3 L1326.7 689.6 L1328.7 688.9 L1330.6 688.2 L1332.5 687.5 L1334.3 686.8 L1335.9 686.2 L1337.5 685.6 L1339 685 L1340.5 684.4 L1342 683.8 L1343.5 683.2 L1345.1 682.6 L1346.6 682 L1348.3 681.3 L1350 680.6 L1352.3 679.6 L1354.8 678.6 L1357.4 677.5 L1360 676.3 L1362.7 675.2 L1365.4 674 L1368.1 672.8 L1370.8 671.6 L1373.4 670.5 L1376 669.4 L1378.4 668.4 L1380.9 667.4 L1383.3 666.4 L1385.7 665.4 L1388.2 664.5 L1390.6 663.5 L1392.9 662.5 L1395.3 661.5 L1397.7 660.5 L1400 659.4 L1402.2 658.3 L1404.4 657.3 L1406.5 656.2 L1408.7 655.1 L1410.8 654 L1412.9 652.8 L1415.1 651.6 L1417.3 650.4 L1419.6 649.1 L1422 647.8 L1425.3 645.9 L1428.7 643.9 L1432.2 641.8 L1435.8 639.7 L1439.5 637.4 L1443.2 635.2 L1447 632.9 L1450.7 630.7 L1454.4 628.5 L1458 626.4 L1461.5 624.4 L1465 622.5 L1468.5 620.6 L1472 618.7 L1475.5 616.8 L1479 614.9 L1482.4 613.1 L1485.7 611.3 L1488.9 609.5 L1492 607.8 L1494.4 606.4 L1496.8 605 L1499.1 603.6 L1501.3 602.2 L1503.5 600.9 L1505.7 599.6 L1507.8 598.3 L1509.9 597 L1512 595.8 L1514 594.7 L1515.7 593.8 L1517.3 592.9 L1518.9 592 L1520.5 591.2 L1522 590.3 L1523.6 589.6 L1525.1 588.8 L1526.6 588.1 L1528.1 587.5 L1529.5 586.9 L1531 586.4 L1532.4 586.1 L1533.9 585.8 L1535.3 585.6 L1536.7 585.3 L1538 585 L1539.2 584.5 L1540.3 583.9 L1541.4 583 L1542.4 581.9 L1543.3 580.7 L1544.1 579.4 L1544.9 578 L1545.6 576.7 L1546.3 575.5 L1547 574.3 L1547.7 573.1 L1548.3 572 L1548.9 570.8 L1549.4 569.6 L1549.9 568.4 L1550.4 567.1 L1550.8 565.8 L1551.2 564.4 L1551.6 563 L1551.9 561.5 L1552.3 560 L1552.6 558.7 L1552.8 557.4 L1553.1 555.9 L1553.3 554.5 L1553.5 553 L1553.8 551.5 L1554 549.9 L1554.2 548.5 L1554.5 547 L1554.7 545.6 L1555 544.3 L1555.2 543.1 L1555.5 541.9 L1555.8 540.8 L1556 539.7 L1556.3 538.4 L1556.6 537 L1556.8 535.4 L1557.1 533.6 L1557.8 527.9 L1558.4 520.7 L1559.1 512.4 L1559.7 503.1 L1560.4 493.1 L1561 482.5 L1561.6 471.7 L1562.3 460.9 L1562.9 450.2 L1563.5 440 L1564.2 428.6 L1564.9 417 L1565.6 405.1 L1566.2 393.1 L1566.9 380.9 L1567.6 368.7 L1568.2 356.5 L1568.9 344.2 L1569.5 332.1 L1570.2 320 L1570.9 307.6 L1571.5 294.7 L1572.2 281.4 L1572.9 268 L1573.5 254.8 L1574.2 242.1 L1574.8 229.9 L1575.4 218.7 L1576 208.7 L1576.5 200 L1576.7 196.3 L1577 193 L1577.2 190 L1577.4 187.2 L1577.6 184.5 L1577.8 182 L1578 179.4 L1578.2 176.9 L1578.5 174.2 L1578.7 171.4 L1579 168.3 L1579.3 165.1 L1579.6 161.9 L1579.9 158.6 L1580.2 155.4 L1580.5 152.2 L1580.8 149 L1581.2 146 L1581.5 143 L1581.8 140.2 L1582 138.1 L1582.3 136.1 L1582.5 134.1 L1582.7 132.2 L1582.9 130.3 L1583.1 128.5 L1583.4 126.7 L1583.6 124.9 L1583.9 123.2 L1584.2 121.5 L1584.5 120 L1584.8 118.5 L1585.1 117 L1585.4 115.6 L1585.7 114.2 L1586.1 112.8 L1586.5 111.5 L1586.9 110.2 L1587.3 109 L1587.8 107.5 L1588.4 106.1 L1589 104.7 L1589.6 103.4 L1590.4 102.3 L1591.2 101.2 L1592.3 100.2 L1593.4 99.3 L1594.7 98.6 L1596 97.9 L1597.4 97.3 L1598.6 96.8 L1599.8 96.4 L1601 96 L1602.3 95.6 L1603.7 95.3 L1605.2 95 L1606.8 94.7 L1608.6 94.5 L1610.5 94.3 L1612.5 94.1 L1614.6 94 L1616.8 93.8 L1619 93.7 L1621.2 93.6 L1623.3 93.5 L1625.5 93.4 L1627.9 93.3 L1630.3 93.2 L1632.8 93.1 L1635.2 93 L1637.7 93 L1640.3 92.9 L1642.7 92.9 L1645.2 92.9 L1647.6 92.9 L1650 93 L1652.1 93.1 L1654.2 93.2 L1656.2 93.3 L1658.2 93.4 L1660.2 93.6 L1662.2 93.7 L1664.2 93.9 L1666.2 94.1 L1668.2 94.3 L1670.3 94.5 L1672.6 94.7 L1675 95 L1677.4 95.2 L1679.8 95.5 L1682.2 95.8 L1684.6 96.1 L1687 96.4 L1689.4 96.7 L1691.6 97.1 L1693.8 97.4 L1695.5 97.7 L1697.2 98 L1698.8 98.3 L1700.4 98.6 L1701.9 98.9 L1703.5 99.3 L1705 99.6 L1706.6 99.9 L1708.3 100.2 L1710 100.5 L1712.1 100.8 L1714.3 101.1 L1716.6 101.4 L1718.9 101.7 L1721.2 102 L1723.5 102.3 L1725.8 102.5 L1728 102.8 L1730.2 103.2 L1732.2 103.5 L1733.8 103.8 L1735.3 104.1 L1736.7 104.4 L1738.2 104.7 L1739.6 105 L1740.9 105.3 L1742.3 105.7 L1743.7 106 L1745.1 106.3 L1746.5 106.7 L1748 107.1 L1749.4 107.4 L1750.9 107.7 L1752.4 108 L1753.9 108.4 L1755.3 108.8 L1756.8 109.2 L1758.2 109.7 L1759.5 110.2 L1760.8 110.8 L1762.1 111.5 L1763.3 112.3 L1764.5 113.1 L1765.7 113.9 L1766.9 114.8 L1767.9 115.8 L1769 116.8 L1770 117.8 L1770.9 118.9 L1771.7 120 L1772.5 121.1 L1773.1 122.2 L1773.8 123.4 L1774.4 124.6 L1775 125.9 L1775.6 127.1 L1776.1 128.4 L1776.6 129.8 L1777.1 131.1 L1777.6 132.6 L1778.1 134.1 L1778.5 135.7 L1778.9 137.3 L1779.3 138.9 L1779.7 140.6 L1780 142.3 L1780.4 144 L1780.7 145.7 L1781.1 147.4 L1781.5 149.3 L1782 151.3 L1782.4 153.3 L1782.8 155.3 L1783.2 157.3 L1783.7 159.4 L1784.1 161.5 L1784.5 163.6 L1784.8 165.7 L1785.2 167.8 L1785.6 170.2 L1785.9 172.6 L1786.3 175 L1786.6 177.5 L1786.9 180 L1787.2 182.5 L1787.5 185 L1787.8 187.5 L1788 189.9 L1788.3 192.3 L1788.5 194.4 L1788.8 196.5 L1789 198.5 L1789.2 200.5 L1789.4 202.5 L1789.5 204.5 L1789.7 206.5 L1789.9 208.5 L1790.1 210.6 L1790.3 212.7 L1790.5 215 L1790.7 217.2 L1790.9 219.3 L1791.1 221.5 L1791.3 223.7 L1791.4 226 L1791.6 228.5 L1791.8 231.1 L1792.1 234 L1792.3 237.1 L1792.8 244.5 L1793.4 252.9 L1794.1 262.4 L1794.8 272.6 L1795.5 283.4 L1796.3 294.6 L1797.1 306 L1797.8 317.5 L1798.6 328.9 L1799.3 340 L1800.1 352.5 L1800.9 365.4 L1801.7 378.6 L1802.6 392 L1803.4 405.5 L1804.2 419 L1805 432.3 L1805.8 445.3 L1806.6 457.9 L1807.3 470 L1807.9 479.9 L1808.5 489.8 L1809 499.7 L1809.6 509.5 L1810.1 519 L1810.7 528.2 L1811.2 537 L1811.7 545.3 L1812.3 553 L1812.8 560 L1813.1 563.7 L1813.4 567.2 L1813.7 570.4 L1814 573.4 L1814.3 576.3 L1814.6 579.1 L1814.9 581.9 L1815.2 584.7 L1815.5 587.6 L1815.8 590.6 L1816.1 593.7 L1816.4 596.7 L1816.7 599.8 L1817 602.8 L1817.3 605.9 L1817.6 609 L1817.9 612 L1818.2 615.1 L1818.5 618.1 L1818.9 621.2 L1819.3 624.3 L1819.6 627.3 L1820 630.4 L1820.4 633.5 L1820.8 636.6 L1821.2 639.7 L1821.6 642.7 L1822.1 645.7 L1822.5 648.7 L1823 651.7 L1823.5 654.4 L1823.9 657.1 L1824.4 659.8 L1824.9 662.5 L1825.4 665.1 L1825.9 667.8 L1826.4 670.4 L1827 673 L1827.5 675.6 L1828.1 678.2 L1828.6 680.7 L1829.2 683.3 L1829.7 685.9 L1830.2 688.5 L1830.8 691.1 L1831.3 693.6 L1832 696.1 L1832.6 698.4 L1833.4 700.6 L1834.2 702.7 L1834.9 704.2 L1835.6 705.6 L1836.3 707.1 L1837.1 708.4 L1837.9 709.7 L1838.7 711 L1839.6 712.1 L1840.5 713.1 L1841.4 714.1 L1842.3 714.9 L1843.6 715.7 L1844.9 716.4 L1846.3 716.9 L1847.7 717.3 L1849.1 717.6 L1850.5 718 L1851.8 718.4 L1853.2 718.7 L1854.5 719.1 L1855.9 719.4 L1857.2 719.7 L1858.6 720" fill="none" stroke="#ff2cff" stroke-width="1.8" stroke-linejoin="round" stroke-linecap="round"/>
<path d="M1214.2 723.6 L1219.1 723.7 L1224.5 723.9 L1230.1 724.2 L1235.7 724.5 L1241.3 724.8 L1246.5 725 L1251.2 725 L1255.3 724.8 L1258.5 724.4 L1260.7 723.6 L1261.6 722.3 L1261.9 720.9 L1262.7 719.7 L1264.1 719.2 L1266 719 L1268.4 719.1 L1271.1 719.2 L1273.9 719.5 L1276.8 719.7 L1279.6 719.9 L1282.1 720.1 L1284.3 720 L1285.9 719.7 L1287.1 719.1 L1287.9 718.2 L1288.7 717.4 L1289.8 716.8 L1291.1 716.5 L1292.8 716.4 L1294.8 716.4 L1296.9 716.6 L1299.1 716.7 L1301.3 716.9 L1303.4 717 L1305.3 717.1 L1307 717 L1308.2 716.8 L1309.3 716.2 L1310.1 715.5 L1311.1 714.9 L1312 714.7 L1313.2 714.5 L1314.5 714.4 L1315.9 714.4 L1317.4 714.3 L1318.9 714.3 L1320.4 714.3 L1321.9 714.2 L1323.3 714.1 L1324.6 713.9 L1326.1 713.6 L1327.4 713.2 L1328.8 712.8 L1330.1 712.3 L1331.4 711.9 L1332.8 711.4 L1334.3 711 L1335.7 710.6 L1337.2 710.3 L1338.7 709.9 L1340.2 709.6 L1341.8 709.2 L1343.4 708.9 L1345.1 708.5 L1346.7 708.1 L1348.4 707.7 L1350 707.2 L1351.9 706.6 L1353.7 706 L1355.6 705.4 L1357.6 704.7 L1359.5 704 L1361.4 703.2 L1363.4 702.5 L1365.3 701.8 L1367.3 701.1 L1369.2 700.5 L1371.1 699.9 L1373 699.3 L1375 698.8 L1376.9 698.2 L1378.8 697.7 L1380.7 697.2 L1382.7 696.6 L1384.6 696 L1386.5 695.4 L1388.4 694.7 L1390.3 694 L1392.3 693.2 L1394.2 692.3 L1396.1 691.5 L1398 690.6 L1400 689.7 L1401.9 688.8 L1403.8 687.9 L1405.7 687 L1407.6 686.1 L1409.5 685.2 L1411.4 684.3 L1413.4 683.3 L1415.3 682.4 L1417.2 681.4 L1419.1 680.4 L1421 679.5 L1422.9 678.5 L1424.8 677.5 L1426.7 676.5 L1428.6 675.5 L1430.5 674.4 L1432.5 673.4 L1434.4 672.3 L1436.3 671.2 L1438.2 670.1 L1440.1 669 L1442 668 L1444 666.9 L1445.9 665.9 L1447.8 664.9 L1449.7 663.9 L1451.7 663 L1453.6 662.1 L1455.5 661.1 L1457.4 660.2 L1459.4 659.3 L1461.3 658.3 L1463.2 657.3 L1465.1 656.3 L1467 655.2 L1468.9 654.1 L1470.8 652.9 L1472.6 651.8 L1474.5 650.6 L1476.4 649.4 L1478.3 648.2 L1480.2 647.1 L1482.2 645.9 L1484.3 644.8 L1486.7 643.6 L1489.2 642.4 L1491.8 641.3 L1494.4 640.2 L1497 639.1 L1499.7 638 L1502.4 636.9 L1505 635.7 L1507.5 634.5 L1510 633.3 L1512.3 632 L1514.6 630.7 L1516.9 629.4 L1519.2 628 L1521.5 626.6 L1523.7 625.2 L1525.8 623.9 L1528 622.5 L1530 621.2 L1532 619.9 L1533.6 618.9 L1535.2 617.9 L1536.8 616.9 L1538.4 615.9 L1539.9 615 L1541.4 614 L1542.7 613.1 L1544 612.2 L1545.2 611.2 L1546.3 610.3 L1547.4 609.3 L1548.3 608.3 L1549.2 607.4 L1549.9 606.4 L1550.6 605.4 L1551.1 604.3 L1551.5 603 L1551.8 601.6 L1551.9 600.1 L1552.1 598.6 L1552.3 597.1 L1552.6 595.8 L1552.9 594.5 L1553.3 593.1 L1553.7 591.7 L1554 590.3 L1554.4 588.9 L1554.7 587.5 L1555 586.1 L1555.3 584.8 L1555.5 583.4 L1555.8 582.1 L1556 580.7 L1556.3 579.3 L1556.5 577.9 L1556.7 576.6 L1556.9 575.3 L1557.1 574 L1557.3 572.7 L1557.6 571.4 L1557.8 570 L1557.9 568.7 L1558.1 567.3 L1558.3 566 L1558.5 564.7 L1558.6 563.4 L1558.7 562 L1558.9 560.7 L1559 559.4 L1559.1 558.1 L1559.3 556.7 L1559.4 555.4 L1559.5 554 L1559.6 552.6 L1559.8 551.2 L1559.9 549.7 L1560 548.2 L1560.1 546.7 L1560.3 545.2 L1560.4 543.7 L1560.5 542.3 L1560.6 540.9 L1560.7 539.6 L1560.8 538.2 L1560.9 537 L1561 535.9 L1561 534.7 L1561.1 533.4 L1561.2 531.9 L1561.3 530 L1561.6 524.8 L1561.9 518.1 L1562.3 510.1 L1562.8 501.2 L1563.3 491.5 L1563.8 481.3 L1564.3 470.8 L1564.9 460.3 L1565.4 449.9 L1566 440 L1566.7 428.7 L1567.4 417.1 L1568.1 405.3 L1568.9 393.2 L1569.7 381.1 L1570.5 368.8 L1571.3 356.5 L1572.1 344.3 L1572.8 332.1 L1573.5 320 L1574.1 307.6 L1574.7 294.7 L1575.3 281.4 L1575.8 268 L1576.4 254.8 L1576.9 242.1 L1577.4 229.9 L1577.9 218.7 L1578.4 208.7 L1579 200 L1579.3 196.3 L1579.5 192.9 L1579.8 189.8 L1580 186.9 L1580.3 184.1 L1580.5 181.5 L1580.8 179 L1581.1 176.5 L1581.4 174 L1581.8 171.4 L1582.1 169.2 L1582.5 167 L1582.8 164.9 L1583.2 162.8 L1583.6 160.7 L1584 158.7 L1584.4 156.7 L1584.8 154.8 L1585.3 152.9 L1585.7 151.1 L1586.1 149.5 L1586.4 148 L1586.8 146.5 L1587.2 145 L1587.5 143.6 L1588 142.2 L1588.4 140.9 L1589 139.7 L1589.6 138.6 L1590.5 137.3 L1591.4 136.2 L1592.4 135.1 L1593.5 134.1 L1594.6 133.2 L1595.9 132.4 L1597.1 131.7 L1598.3 131.2 L1599.6 130.7 L1601 130.2 L1602.4 129.8 L1603.8 129.4 L1605.3 128.9 L1606.8 128.5 L1608.2 128.1 L1609.7 127.7 L1611.2 127.3 L1612.7 126.9 L1614.3 126.5 L1615.8 126.1 L1617.5 125.7 L1619.1 125.4 L1620.7 125 L1622.4 124.6 L1624.4 124.1 L1626.4 123.7 L1628.4 123.2 L1630.5 122.7 L1632.6 122.2 L1634.7 121.8 L1636.9 121.3 L1639.1 120.9 L1641.2 120.5 L1643.4 120.2 L1645.7 119.9 L1648.1 119.7 L1650.5 119.5 L1653 119.3 L1655.5 119.2 L1657.9 119.1 L1660.3 119 L1662.6 118.8 L1664.8 118.7 L1666.9 118.5 L1668.4 118.3 L1669.8 118.2 L1671.1 118 L1672.3 117.7 L1673.6 117.5 L1674.8 117.4 L1676.1 117.2 L1677.4 117 L1678.8 116.9 L1680.3 116.8 L1682.6 116.7 L1685.1 116.6 L1687.7 116.6 L1690.5 116.6 L1693.3 116.7 L1696 116.7 L1698.7 116.9 L1701.2 117.1 L1703.5 117.4 L1705.5 117.7 L1707 118 L1708.4 118.4 L1709.6 118.7 L1710.8 119.2 L1711.9 119.7 L1712.9 120.3 L1713.9 121 L1714.8 121.8 L1715.6 122.8 L1716.3 123.8 L1717 125 L1717.6 126.2 L1718.2 127.4 L1718.9 128.6 L1719.5 129.8 L1720.1 131 L1720.7 132.2 L1721.3 133.5 L1721.9 134.9 L1722.5 136.2 L1723 137.6 L1723.5 138.9 L1724 140.3 L1724.4 141.6 L1724.8 142.9 L1725.2 144.2 L1725.5 145.5 L1725.8 146.9 L1726.1 148.2 L1726.4 149.6 L1726.7 151 L1727 152.4 L1727.3 153.8 L1727.6 155.4 L1727.9 156.9 L1728.2 158.5 L1728.4 160.1 L1728.7 161.7 L1728.9 163.4 L1729.2 165.1 L1729.4 166.8 L1729.7 168.6 L1730 170.5 L1730.4 173.2 L1730.8 176 L1731.3 178.9 L1731.7 182 L1732.2 185.1 L1732.6 188.2 L1733.1 191.4 L1733.5 194.5 L1733.9 197.5 L1734.3 200.4 L1734.6 202.9 L1734.9 205.2 L1735.2 207.4 L1735.5 209.5 L1735.8 211.7 L1736.1 213.9 L1736.4 216.3 L1736.7 218.9 L1737 221.7 L1737.3 224.9 L1738 232.9 L1738.8 242.4 L1739.6 253 L1740.5 264.5 L1741.4 276.7 L1742.3 289.4 L1743.1 302.3 L1744 315.2 L1744.8 327.8 L1745.6 340 L1746.4 352.8 L1747.2 365.9 L1747.9 379.2 L1748.6 392.6 L1749.3 406 L1750 419.3 L1750.8 432.5 L1751.5 445.4 L1752.2 457.9 L1753 470 L1753.7 479.9 L1754.4 490 L1755.1 500 L1755.9 509.9 L1756.6 519.6 L1757.3 528.9 L1758 537.7 L1758.7 545.9 L1759.3 553.4 L1759.8 560 L1760 563.1 L1760.3 565.8 L1760.5 568.3 L1760.7 570.7 L1760.8 572.9 L1761 575.1 L1761.2 577.3 L1761.4 579.5 L1761.6 581.9 L1761.8 584.5 L1762.1 587.9 L1762.4 591.4 L1762.6 595.1 L1762.9 598.8 L1763.2 602.6 L1763.5 606.4 L1763.8 610.2 L1764.2 614 L1764.5 617.6 L1764.9 621.2 L1765.2 624.4 L1765.6 627.5 L1766 630.6 L1766.3 633.7 L1766.7 636.8 L1767.1 639.8 L1767.6 642.8 L1768 645.8 L1768.4 648.8 L1768.9 651.7 L1769.4 654.4 L1769.8 657.1 L1770.3 659.8 L1770.8 662.5 L1771.3 665.1 L1771.8 667.8 L1772.3 670.4 L1772.9 673 L1773.4 675.6 L1774 678.2 L1774.5 680.7 L1775 683.3 L1775.5 685.9 L1776 688.6 L1776.6 691.1 L1777.1 693.7 L1777.8 696.1 L1778.4 698.5 L1779.2 700.7 L1780.1 702.7 L1780.9 704.2 L1781.7 705.7 L1782.5 707.1 L1783.4 708.5 L1784.3 709.8 L1785.3 711.1 L1786.3 712.2 L1787.3 713.2 L1788.3 714.1 L1789.3 714.9 L1790.6 715.6 L1792 716 L1793.5 716.2 L1794.9 716.4 L1796.3 716.6 L1797.5 717 L1798.9 717.7 L1800.1 718.4 L1801.4 719.2 L1802.6 720" fill="none" stroke="#929228" stroke-width="1.8" stroke-linejoin="round" stroke-linecap="round"/>
<path d="M1316.9 723.6 L1319.9 723.7 L1323.1 723.8 L1326.4 724 L1329.7 724.3 L1333 724.5 L1336.2 724.6 L1339 724.6 L1341.5 724.5 L1343.5 724.2 L1345 723.6 L1345.8 722.4 L1346.1 720.9 L1346.9 719.7 L1348.1 719.1 L1349.8 718.8 L1351.8 718.5 L1354.1 718.4 L1356.6 718.4 L1359.2 718.3 L1361.9 718.3 L1364.5 718.2 L1366.9 718 L1369.2 717.7 L1371.2 717.3 L1373.2 716.8 L1375.1 716.3 L1377 715.8 L1378.9 715.2 L1380.8 714.6 L1382.7 714 L1384.6 713.3 L1386.5 712.7 L1388.4 712 L1390.3 711.3 L1392.3 710.6 L1394.2 709.9 L1396.1 709.2 L1398.1 708.5 L1400 707.7 L1401.9 706.9 L1403.8 706.1 L1405.7 705.2 L1407.6 704.3 L1409.5 703.3 L1411.5 702.2 L1413.4 701.1 L1415.3 700 L1417.2 698.8 L1419.1 697.6 L1421 696.4 L1422.9 695.2 L1424.8 694 L1426.7 692.8 L1428.6 691.7 L1430.6 690.6 L1432.5 689.5 L1434.4 688.4 L1436.4 687.3 L1438.3 686.2 L1440.2 685.1 L1442.1 683.9 L1444 682.6 L1445.9 681.3 L1447.9 679.8 L1449.8 678.2 L1451.8 676.5 L1453.7 674.7 L1455.6 673 L1457.5 671.2 L1459.4 669.4 L1461.3 667.5 L1463.2 665.8 L1465.1 664 L1467 662.3 L1468.9 660.6 L1470.9 658.8 L1472.8 657.1 L1474.7 655.4 L1476.6 653.7 L1478.5 652 L1480.4 650.2 L1482.4 648.5 L1484.3 646.7 L1486.3 644.8 L1488.3 642.9 L1490.4 641 L1492.4 639 L1494.4 637.1 L1496.5 635.1 L1498.5 633.3 L1500.5 631.4 L1502.5 629.7 L1504.4 628 L1506 626.7 L1507.6 625.4 L1509.1 624.3 L1510.7 623.1 L1512.2 622 L1513.8 620.9 L1515.3 619.8 L1516.8 618.7 L1518.4 617.5 L1520 616.3 L1521.8 614.9 L1523.5 613.5 L1525.3 612 L1527.1 610.5 L1528.9 609 L1530.7 607.5 L1532.5 606 L1534.3 604.6 L1536.1 603.2 L1537.9 601.9 L1539.5 600.8 L1541.2 599.8 L1542.8 598.8 L1544.5 597.9 L1546.2 597 L1547.8 596.1 L1549.4 595.2 L1550.8 594.3 L1552.2 593.3 L1553.5 592.3 L1554.6 591.3 L1555.7 590.3 L1556.7 589.2 L1557.6 588.2 L1558.4 587.2 L1559.2 586.1 L1560 585 L1560.7 583.9 L1561.4 582.8 L1562 581.6 L1562.5 580.5 L1563 579.3 L1563.5 578.1 L1563.9 576.8 L1564.3 575.5 L1564.7 574.2 L1565 572.8 L1565.3 571.4 L1565.5 569.9 L1565.8 568.4 L1566 566.9 L1566.2 565.4 L1566.4 563.9 L1566.7 562.4 L1566.9 561 L1567.2 559.5 L1567.4 558.1 L1567.7 556.6 L1567.9 555.2 L1568.2 553.7 L1568.4 552.2 L1568.7 550.8 L1568.9 549.4 L1569.1 548 L1569.3 546.7 L1569.5 545.5 L1569.7 544.3 L1569.9 543.2 L1570.1 542.1 L1570.3 540.8 L1570.5 539.4 L1570.7 537.8 L1570.9 536 L1571.4 530.2 L1571.9 522.8 L1572.4 514.3 L1572.9 504.7 L1573.4 494.4 L1573.9 483.6 L1574.4 472.5 L1574.9 461.4 L1575.5 450.4 L1576 440 L1576.6 428.5 L1577.3 416.9 L1578 405 L1578.6 393 L1579.3 380.8 L1580 368.6 L1580.7 356.4 L1581.4 344.2 L1582 332.1 L1582.6 320 L1583.2 307.6 L1583.7 294.4 L1584.2 280.9 L1584.7 267.3 L1585.2 253.8 L1585.7 240.9 L1586.2 228.7 L1586.6 217.7 L1587.1 208 L1587.6 200 L1587.8 197.2 L1588 194.7 L1588.2 192.5 L1588.4 190.4 L1588.6 188.5 L1588.8 186.7 L1589 184.9 L1589.2 183.1 L1589.4 181.2 L1589.6 179.2 L1589.8 177.2 L1589.9 175.1 L1590.1 173.1 L1590.3 171 L1590.4 169 L1590.6 166.9 L1590.7 164.9 L1590.9 162.9 L1591 160.9 L1591.2 158.9 L1591.3 157 L1591.5 155.1 L1591.6 153.2 L1591.7 151.3 L1591.9 149.4 L1592 147.5 L1592.2 145.7 L1592.3 143.8 L1592.5 142 L1592.7 140.2 L1592.9 138.6 L1593.1 137 L1593.3 135.4 L1593.5 133.8 L1593.7 132.2 L1594 130.7 L1594.2 129.2 L1594.5 127.6 L1594.8 126.1 L1595.1 124.6 L1595.4 123.1 L1595.7 121.6 L1596 120.1 L1596.4 118.7 L1596.7 117.2 L1597.1 115.7 L1597.5 114.3 L1597.9 113 L1598.4 111.7 L1599 110.5 L1599.7 109.1 L1600.4 107.8 L1601.2 106.6 L1602 105.4 L1602.9 104.4 L1604 103.5 L1605.2 102.7 L1606.5 102.2 L1608.1 101.8 L1609.8 101.7 L1611.7 101.6 L1613.6 101.6 L1615.5 101.7 L1617.4 101.8 L1619.2 101.9 L1620.9 102 L1622.4 102 L1623.8 102 L1625.1 101.9 L1626.3 101.9 L1627.5 101.9 L1628.7 102 L1630 102.1 L1631.4 102.3 L1632.7 102.6 L1634.2 102.9 L1635.6 103.2 L1637.1 103.6 L1638.6 104 L1640.1 104.3 L1641.4 104.6 L1642.7 104.8 L1644 105.1 L1645.4 105.3 L1646.8 105.6 L1648.2 105.8 L1649.6 106.1 L1650.9 106.3 L1652.2 106.6 L1653.5 106.8 L1655 107.1 L1656.6 107.3 L1658.1 107.5 L1659.5 107.8 L1660.9 108 L1662.3 108.4 L1663.6 108.8 L1664.8 109.3 L1666 109.9 L1667.1 110.5 L1668.2 111.2 L1669.2 111.9 L1670.3 112.7 L1671.3 113.5 L1672.3 114.4 L1673.3 115.3 L1674.2 116.3 L1675.1 117.3 L1676.1 118.3 L1677 119.4 L1677.9 120.4 L1678.8 121.5 L1679.7 122.7 L1680.6 123.8 L1681.5 125 L1682.3 126.2 L1683 127.4 L1683.7 128.6 L1684.3 129.8 L1684.8 131 L1685.2 132.2 L1685.6 133.4 L1685.9 134.7 L1686.3 136 L1686.6 137.3 L1687 138.7 L1687.4 140.1 L1687.7 141.5 L1688.1 143 L1688.5 144.5 L1688.8 146 L1689.1 147.5 L1689.5 149.1 L1689.8 150.7 L1690.1 152.2 L1690.4 153.8 L1690.7 155.4 L1691 157.1 L1691.2 158.7 L1691.5 160.3 L1691.7 162 L1692 163.7 L1692.2 165.3 L1692.4 167 L1692.7 168.8 L1692.9 170.5 L1693.2 172.5 L1693.4 174.5 L1693.7 176.7 L1694 178.8 L1694.2 181 L1694.5 183.1 L1694.7 185.1 L1695 187.1 L1695.2 189 L1695.4 190.7 L1695.6 192.1 L1695.8 193.3 L1695.9 194.4 L1696.1 195.4 L1696.2 196.6 L1696.4 198.1 L1696.6 200 L1697.2 207.3 L1697.9 217.4 L1698.7 229.9 L1699.6 244.1 L1700.6 259.7 L1701.5 276.1 L1702.5 292.8 L1703.5 309.4 L1704.5 325.3 L1705.5 340 L1706.5 354.2 L1707.5 368.6 L1708.5 383.2 L1709.6 397.9 L1710.6 412.4 L1711.7 426.8 L1712.7 440.9 L1713.7 454.5 L1714.7 467.6 L1715.6 480 L1716.3 489.1 L1716.9 498 L1717.6 506.8 L1718.3 515.4 L1718.9 523.7 L1719.5 531.8 L1720.1 539.5 L1720.6 546.8 L1721.1 553.6 L1721.6 560 L1721.8 563.6 L1722.1 567 L1722.3 570.2 L1722.4 573.3 L1722.6 576.2 L1722.8 579.1 L1723 581.9 L1723.2 584.7 L1723.4 587.6 L1723.6 590.6 L1723.9 593.7 L1724.1 596.7 L1724.4 599.8 L1724.7 602.8 L1725 605.9 L1725.4 609 L1725.7 612 L1726 615.1 L1726.3 618.1 L1726.6 621.2 L1726.9 624.3 L1727.2 627.3 L1727.5 630.4 L1727.7 633.5 L1728 636.6 L1728.3 639.7 L1728.6 642.7 L1728.9 645.7 L1729.2 648.7 L1729.6 651.7 L1729.9 654.4 L1730.3 657.2 L1730.6 659.9 L1731 662.6 L1731.4 665.3 L1731.8 668 L1732.2 670.6 L1732.7 673.2 L1733.2 675.7 L1733.7 678.2 L1734.2 680.4 L1734.7 682.5 L1735.3 684.7 L1735.8 686.8 L1736.4 688.9 L1737 690.9 L1737.6 692.9 L1738.3 694.9 L1739 696.8 L1739.8 698.6 L1740.5 700.2 L1741.2 701.8 L1742 703.4 L1742.7 705 L1743.5 706.5 L1744.4 708 L1745.2 709.4 L1746.1 710.7 L1747 711.8 L1748 712.9 L1749.1 713.9 L1750.2 714.8 L1751.4 715.6 L1752.6 716.3 L1753.8 716.9 L1755.1 717.5 L1756.4 718 L1757.6 718.4 L1758.9 718.7 L1760.2 719 L1761.6 719.2 L1762.9 719.4 L1764.3 719.6 L1765.7 719.8 L1767 720" fill="none" stroke="#1a1a88" stroke-width="1.8" stroke-linejoin="round" stroke-linecap="round"/>
<path d="M120 17.5H1000.2V722.9H120Z" fill="none" stroke="#262626" stroke-width="3.0"/>
<path d="M104.5 723H120 M112 685.2H120 M104.5 645.1H120 M112 604.8H120 M104.5 566.7H120 M112 526.8H120 M104.5 489.6H120 M112 449.5H120 M104.5 409.3H120 M112 371H120 M104.5 331.5H120 M112 293.6H120 M104.5 253.5H120 M112 213.3H120 M104.5 175.8H120 M112 135.7H120 M104.5 97.6H120 M112 57.8H120 M104.5 17.5H120 M120.1 722.9V735.9 M230 722.9V729.9 M339.8 722.9V735.9 M449.6 722.9V729.9 M559.8 722.9V735.9 M670 722.9V729.9 M779.8 722.9V735.9 M889.6 722.9V729.9 M1000.2 722.9V735.9" fill="none" stroke="#262626" stroke-width="3.0"/>
<text transform="translate(93.5 29.6) scale(1 1.11)" text-anchor="end">9</text>
<text transform="translate(93.5 107.3) scale(1 1.11)" text-anchor="end">8</text>
<text transform="translate(93.5 184.9) scale(1 1.11)" text-anchor="end">7</text>
<text transform="translate(93.5 266.3) scale(1 1.11)" text-anchor="end">6</text>
<text transform="translate(93.5 343.3) scale(1 1.11)" text-anchor="end">5</text>
<text transform="translate(93.5 421.8) scale(1 1.11)" text-anchor="end">4</text>
<text transform="translate(93.5 499.3) scale(1 1.11)" text-anchor="end">3</text>
<text transform="translate(93.5 577.5) scale(1 1.11)" text-anchor="end">2</text>
<text transform="translate(93.5 657.1) scale(1 1.11)" text-anchor="end">1</text>
<text transform="translate(93.5 734.6) scale(1 1.11)" text-anchor="end">0</text>
<text transform="translate(119.3 776.9) scale(1 1.11)" text-anchor="middle">0</text>
<text transform="translate(339 776.9) scale(1 1.11)" text-anchor="middle">50</text>
<text transform="translate(559 776.9) scale(1 1.11)" text-anchor="middle">100</text>
<text transform="translate(779 776.9) scale(1 1.11)" text-anchor="middle">150</text>
<text transform="translate(999.4 776.9) scale(1 1.11)" text-anchor="middle">200</text>
<path d="M1167.8 19.9H2032.4V725.1H1167.8Z" fill="none" stroke="#262626" stroke-width="3.0"/>
<path d="M1154.3 725.1H1167.8 M1161.3 685.2H1167.8 M1154.3 647.5H1167.8 M1161.3 608H1167.8 M1154.3 569.5H1167.8 M1161.3 529.2H1167.8 M1154.3 489.6H1167.8 M1161.3 451.2H1167.8 M1154.3 411.2H1167.8 M1161.3 371H1167.8 M1154.3 333.9H1167.8 M1161.3 293.6H1167.8 M1154.3 253.5H1167.8 M1161.3 215.2H1167.8 M1154.3 175.8H1167.8 M1161.3 135.7H1167.8 M1154.3 97.6H1167.8 M1161.3 57.8H1167.8 M1154.3 19.9H1167.8 M1167.8 725.1V737.6 M1240.1 725.1V731.6 M1311.7 725.1V737.6 M1384.4 725.1V731.6 M1455.2 725.1V737.6 M1528.2 725.1V731.6 M1600.2 725.1V737.6 M1673 725.1V731.6 M1745 725.1V737.6 M1817.1 725.1V731.6 M1889.9 725.1V737.6 M1962.4 725.1V731.6 M2032.3 725.1V737.6" fill="none" stroke="#262626" stroke-width="3.0"/>
<text transform="translate(1145 29.9) scale(1 1.11)" text-anchor="end">9</text>
<text transform="translate(1145 108.7) scale(1 1.11)" text-anchor="end">8</text>
<text transform="translate(1145 187.9) scale(1 1.11)" text-anchor="end">7</text>
<text transform="translate(1145 267) scale(1 1.11)" text-anchor="end">6</text>
<text transform="translate(1145 345.3) scale(1 1.11)" text-anchor="end">5</text>
<text transform="translate(1145 423.3) scale(1 1.11)" text-anchor="end">4</text>
<text transform="translate(1145 502.7) scale(1 1.11)" text-anchor="end">3</text>
<text transform="translate(1145 581.8) scale(1 1.11)" text-anchor="end">2</text>
<text transform="translate(1145 658.9) scale(1 1.11)" text-anchor="end">1</text>
<text transform="translate(1145 738.9) scale(1 1.11)" text-anchor="end">0</text>
<text transform="translate(1167 776.9) scale(1 1.11)" text-anchor="middle">150</text>
<text transform="translate(1310.9 776.9) scale(1 1.11)" text-anchor="middle">200</text>
<text transform="translate(1454.4 776.9) scale(1 1.11)" text-anchor="middle">250</text>
<text transform="translate(1599.4 776.9) scale(1 1.11)" text-anchor="middle">300</text>
<text transform="translate(1744.2 776.9) scale(1 1.11)" text-anchor="middle">350</text>
<text transform="translate(1889.1 776.9) scale(1 1.11)" text-anchor="middle">400</text>
<text transform="translate(2031.5 776.9) scale(1 1.11)" text-anchor="middle">450</text>
<text transform="translate(36.9 331.2) rotate(-90) scale(1 1.07)" text-anchor="middle" font-size="37.8">SLD x 10<tspan dy="-14" font-size="24">6</tspan><tspan dy="14"> (</tspan><tspan font-family="'Liberation Serif', 'Times New Roman', serif">Å</tspan><tspan dy="-14" font-size="24">-2</tspan><tspan dy="14">)</tspan></text>
<text transform="translate(1083.7 334.2) rotate(-90) scale(1 1.07)" text-anchor="middle" font-size="37.8">SLD x 10<tspan dy="-14" font-size="24">6</tspan><tspan dy="14"> (</tspan><tspan font-family="'Liberation Serif', 'Times New Roman', serif">Å</tspan><tspan dy="-14" font-size="24">-2</tspan><tspan dy="14">)</tspan></text>
<text x="435.2" y="803.3" font-size="37">x (<tspan font-family="'Liberation Serif', 'Times New Roman', serif" font-size="39">Å</tspan><tspan dx="2">)</tspan></text>
<text x="1558.4" y="827.2" font-size="37">x (<tspan font-family="'Liberation Serif', 'Times New Roman', serif" font-size="39">Å</tspan><tspan dx="2">)</tspan></text>
<text transform="translate(136.6 55.6) scale(1 1.07)" font-size="30" letter-spacing="2" fill="#2e2e2e">a<tspan fill="#555">)</tspan></text>
<text transform="translate(1184.2 53.4) scale(1 1.07)" font-size="30" letter-spacing="2" fill="#2e2e2e">b<tspan fill="#555">)</tspan></text>
<path d="M219 110.3H296" stroke="#1c1c1c" stroke-width="2.3"/>
<text transform="translate(305.5 122.8) scale(1 1.13)" font-size="30" letter-spacing="3.0" fill="#303030">OCP</text>
<path d="M219 153.1H296" stroke="#ff2a2a" stroke-width="2.3"/>
<text transform="translate(313 162.3) scale(1 1.13)" font-size="30" letter-spacing="1.4" fill="#303030">-0.8 V</text>
<path d="M219 195.9H296" stroke="#2222ff" stroke-width="2.3"/>
<text transform="translate(313 205.5) scale(1 1.13)" font-size="30" letter-spacing="1.4" fill="#303030">-0.6 V</text>
<path d="M219 235.3H296" stroke="#2f9898" stroke-width="2.3"/>
<text transform="translate(313 247.9) scale(1 1.13)" font-size="30" letter-spacing="1.4" fill="#303030">-0.4 V</text>
<path d="M219 278.8H296" stroke="#ff2cff" stroke-width="2.3"/>
<text transform="translate(313 290.6) scale(1 1.13)" font-size="30" letter-spacing="1.4" fill="#303030">-0.2 V</text>
<path d="M219 321.5H296" stroke="#929228" stroke-width="2.3"/>
<text transform="translate(324.3 334) scale(1 1.13)" font-size="30" letter-spacing="1.1" fill="#303030">0.0 V</text>
<path d="M219 364.3H296" stroke="#1a1a88" stroke-width="2.3"/>
<text transform="translate(306.8 376) scale(1 1.13)" font-size="30" letter-spacing="0.9" fill="#303030">+0.2 V</text>
<path d="M1259 105.3H1336" stroke="#1c1c1c" stroke-width="2.3"/>
<text transform="translate(1343 117.8) scale(1 1.13)" font-size="30" letter-spacing="3.0" fill="#303030">OCP</text>
<path d="M1259 148H1336" stroke="#ff2a2a" stroke-width="2.3"/>
<text transform="translate(1352.5 160) scale(1 1.13)" font-size="30" letter-spacing="1.4" fill="#303030">-0.8 V</text>
<path d="M1259 190.4H1336" stroke="#2222ff" stroke-width="2.3"/>
<text transform="translate(1352.5 202.3) scale(1 1.13)" font-size="30" letter-spacing="1.4" fill="#303030">-0.6 V</text>
<path d="M1259 232.4H1336" stroke="#2f9898" stroke-width="2.3"/>
<text transform="translate(1352.5 242.9) scale(1 1.13)" font-size="30" letter-spacing="1.4" fill="#303030">-0.4 V</text>
<path d="M1259 275.1H1336" stroke="#ff2cff" stroke-width="2.3"/>
<text transform="translate(1352.5 285.6) scale(1 1.13)" font-size="30" letter-spacing="1.4" fill="#303030">-0.2 V</text>
<path d="M1259 317.8H1336" stroke="#929228" stroke-width="2.3"/>
<text transform="translate(1361.8 329) scale(1 1.13)" font-size="30" letter-spacing="1.1" fill="#303030">0.0 V</text>
<path d="M1259 358H1336" stroke="#1a1a88" stroke-width="2.3"/>
<text transform="translate(1343.8 371) scale(1 1.13)" font-size="30" letter-spacing="0.9" fill="#303030">+0.2 V</text>
</svg></body></html>
